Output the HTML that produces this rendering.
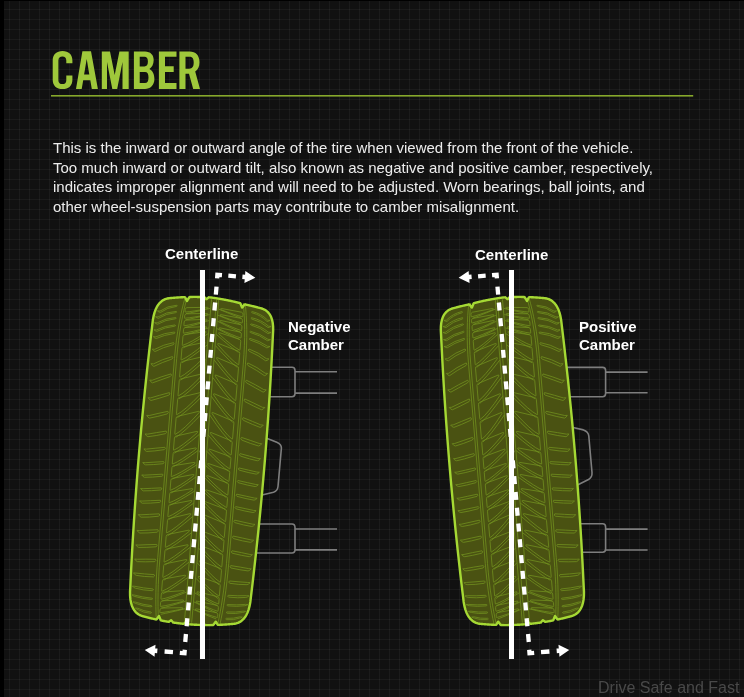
<!DOCTYPE html>
<html><head><meta charset="utf-8"><style>
html,body{margin:0;padding:0;}
body{width:744px;height:697px;overflow:hidden;position:relative;background:#000;}
#bg{position:absolute;left:4px;top:1px;width:740px;height:696px;
background-color:#111111;
background-image:linear-gradient(to right, rgba(255,255,255,0.045) 1px, transparent 1px),
linear-gradient(to bottom, rgba(255,255,255,0.045) 1px, transparent 1px);
background-size:10px 10px;background-position:5px 8px;}
.t{position:absolute;font-family:"Liberation Sans",sans-serif;white-space:nowrap;will-change:transform;}
#para{left:53px;top:138px;font-size:15px;line-height:19.5px;color:#ededed;}
.lab{font-size:15px;font-weight:bold;color:#fff;line-height:18px;}
#wm{left:598px;top:679px;font-size:16px;color:#494949;}
svg{position:absolute;left:0;top:0;}
</style></head><body>
<div id="bg"></div>
<div class="t" id="para">This is the inward or outward angle of the tire when viewed from the front of the vehicle.<br>Too much inward or outward tilt, also known as negative and positive camber, respectively,<br>indicates improper alignment and will need to be adjusted. Worn bearings, ball joints, and<br>other wheel-suspension parts may contribute to camber misalignment.</div>
<svg width="744" height="697" viewBox="0 0 744 697">
<g fill="#9fc83b" fill-rule="evenodd">
<path d="M72.4,63.3 L72.4,60.5 C72.4,54.6 68.6,51.1 62.55,51.1 C56.5,51.1 52.7,54.6 52.7,60.5 L52.7,79.7 C52.7,85.6 56.5,89.1 62.55,89.1 C68.6,89.1 72.4,85.6 72.4,79.7 L72.4,75.5 L66.3,75.5 L66.3,80.2 C66.3,82.8 64.8,84.1 62.4,84.1 C60,84.1 58.4,82.8 58.4,80.2 L58.4,60.4 C58.4,57.8 60,56.5 62.4,56.5 C64.8,56.5 66.3,57.8 66.3,60.4 L66.3,63.3 Z"/>
<path d="M76,89 L82.4,51.3 L91,51.3 L97.9,89 L91.8,89 L90.3,80.2 L83.2,80.2 L81.7,89 Z M84.1,74.4 L89.3,74.4 L86.7,59 Z"/>
<path d="M101.8,89 L101.8,51.5 L110,51.5 L114.7,75 L119.4,51.5 L128.7,51.5 L128.7,89 L122.5,89 L122.5,62 L117.2,89 L112.3,89 L107,62 L107,89 Z"/>
<path d="M133.9,51.5 L145,51.5 C150.5,51.5 153.7,55 153.7,60 C153.7,64.5 151.7,67.5 149.4,69 C152.5,70.5 154.4,74 154.4,79 C154.4,85 150.5,89 145,89 L133.9,89 Z M139.7,56.8 L144.5,56.8 C146.7,56.8 147.9,58.2 147.9,61.6 C147.9,65 146.7,66.5 144.5,66.5 L139.7,66.5 Z M139.7,71.9 L145,71.9 C147.3,71.9 148.5,73.7 148.5,77.4 C148.5,81.2 147.3,83 145,83 L139.7,83 Z"/>
<path d="M158.9,51.5 L176.5,51.5 L176.5,56.8 L165,56.8 L165,66.2 L173.7,66.2 L173.7,71.9 L165,71.9 L165,83 L176.5,83 L176.5,89 L158.9,89 Z"/>
<path d="M179.4,89 L179.4,51.5 L189.5,51.5 C195.8,51.5 199.5,55.5 199.5,62.2 C199.5,66.8 197.8,70 195.2,71.5 L200,89 L193.2,89 L189,73.7 L185.5,73.7 L185.5,89 Z M185.5,56.8 L189.3,56.8 C192.3,56.8 193.7,58.5 193.7,62.5 C193.7,66.5 192.3,68.7 189.3,68.7 L185.5,68.7 Z"/>
</g>
<rect x="51" y="95" width="642.2" height="1.6" fill="#86a82b"/>
<g fill="none" stroke="#7e7e7e" stroke-width="1.6" stroke-linejoin="round">
<path d="M266,367.3 L292,367.3 Q295,367.3 295,370.5 L295,393.5 Q295,396.7 292,396.7 L265,396.7"/>
<path d="M295,371.8 L337,371.8 M295,393.1 L337,393.1"/>
<path d="M266,438 L276.8,442.2 Q281.4,444 281.4,448 L278,486.5 Q277.6,490.8 273.5,492.2 L261,495.3"/>
<path d="M257,524 L292,524 Q295,524 295,527.5 L295,549.5 Q295,553 292,553 L254,553"/>
<path d="M295,529 L337,529 M295,549.9 L337,549.9"/>
</g>
<g fill="none" stroke="#7e7e7e" stroke-width="1.6" stroke-linejoin="round">
<path d="M566,367.4 L602.6,367.4 Q605.6,367.4 605.6,370.6 L605.6,393.6 Q605.6,396.8 602.6,396.8 L568,396.8"/>
<path d="M605.6,372.1 L647.6,372.1 M605.6,392.7 L647.6,392.7"/>
<path d="M572,427.3 L583.4,429.9 Q588.3,431.5 588.8,436 L592,472.5 Q592.3,477.3 588.5,479.5 L577,485.3"/>
<path d="M579,523.8 L602.6,523.8 Q605.6,523.8 605.6,527 L605.6,549 Q605.6,552.2 602.6,552.2 L581.5,552.2"/>
<path d="M605.6,529.1 L647.6,529.1 M605.6,550 L647.6,550"/>
</g>
<g transform="translate(201.6,461) rotate(4.8)">
<path d="M-46,-159.5 L-45.5,-159.59 L-45,-159.68 L-44.5,-159.78 L-44,-159.87 L-43.5,-159.95 L-43,-160.04 L-42.5,-160.13 L-42,-160.22 L-41.5,-160.3 L-41,-160.38 L-40.5,-160.47 L-40,-160.55 L-39.5,-160.63 L-39,-160.71 L-38.5,-160.79 L-38,-160.87 L-37.5,-160.94 L-37,-161.02 L-36.5,-161.09 L-36,-161.17 L-35.5,-161.24 L-35,-161.31 L-34.5,-161.38 L-34,-161.45 L-33.5,-161.52 L-33,-161.59 L-32.5,-161.65 L-32,-161.72 L-31.5,-161.78 L-31,-161.85 L-30.5,-161.91 L-30,-161.61 L-29.5,-160.76 L-29,-159.91 L-28.5,-159.06 L-28,-158.21 L-27.5,-159.17 L-27,-160.14 L-26.5,-161.1 L-26,-162.06 L-25.5,-162.48 L-25,-162.53 L-24.5,-162.58 L-24,-162.63 L-23.5,-162.68 L-23,-162.72 L-22.5,-162.77 L-22,-162.82 L-21.5,-162.86 L-21,-162.9 L-20.5,-162.95 L-20,-162.99 L-19.5,-163.03 L-19,-163.07 L-18.5,-163.1 L-18,-163.14 L-17.5,-163.18 L-17,-163.21 L-16.5,-163.25 L-16,-163.28 L-15.5,-163.31 L-15,-163.34 L-14.5,-163.37 L-14,-163.4 L-13.5,-163.43 L-13,-163.46 L-12.5,-163.48 L-12,-163.51 L-11.5,-163.53 L-11,-163.55 L-10.5,-163.08 L-10,-162.6 L-9.5,-162.12 L-9,-161.64 L-8.5,-161.75 L-8,-162.27 L-7.5,-162.79 L-7,-163.3 L-6.5,-163.71 L-6,-163.73 L-5.5,-163.74 L-5,-163.75 L-4.5,-163.73 L-4,-163.7 L-3.5,-163.68 L-3,-163.65 L-2.5,-163.62 L-2,-163.59 L-1.5,-163.57 L-1,-163.54 L-0.5,-163.5 L0,-163.47 L0.5,-163.44 L1,-163.4 L1.5,-163.37 L2,-163.33 L2.5,-163.29 L3,-163.26 L3.5,-163.22 L4,-163.18 L4.5,-163.13 L5,-163.09 L5.5,-163.05 L6,-163 L6.5,-162.96 L7,-162.91 L7.5,-162.86 L8,-162.82 L8.5,-162.77 L9,-162.72 L9.5,-162.66 L10,-162.61 L10.5,-162.56 L11,-162.5 L11.5,-162.45 L12,-162.39 L12.5,-162.33 L13,-162.27 L13.5,-162.21 L14,-162.15 L14.5,-162.09 L15,-162.03 L15.5,-161.96 L16,-161.9 L16.5,-161.83 L17,-161.77 L17.5,-161.7 L18,-161.63 L18.5,-161.56 L19,-161.49 L19.5,-161.42 L20,-161.34 L20.5,-161.27 L21,-161.2 L21.5,-161.12 L22,-161.04 L22.5,-160.96 L23,-160.88 L23.5,-160.8 L24,-160.72 L24.5,-160.64 L25,-160.56 L25.5,-160.29 L26,-159.3 L26.5,-158.3 L27,-157.31 L27.5,-156.31 L28,-156.77 L28.5,-157.58 L29,-158.4 L29.5,-159.22 L30,-159.67 L30.5,-159.61 L31,-159.55 L31.5,-159.48 L32,-159.42 L32.5,-159.35 L33,-159.29 L33.5,-159.22 L34,-159.15 L34.5,-159.08 L35,-159.01 L35.5,-158.94 L36,-158.87 L36.5,-158.79 L37,-158.72 L37.5,-158.64 L38,-158.57 L38.5,-158.49 L39,-158.41 L39.5,-158.33 L40,-158.25 L40.5,-158.17 L41,-158.08 L41.5,-158 L42,-157.92 L42.5,-157.83 L43,-157.74 L43.5,-157.65 L44,-157.57 L44.5,-157.48 L45,-157.38 L45.5,-157.29 L46,-157.2 L47.97,-156.8 L49.85,-156.17 L51.64,-155.29 L53.31,-154.13 L54.86,-152.68 L56.25,-150.9 L57.48,-148.77 L58.52,-146.27 L59.36,-143.36 L59.98,-140.03 L60.37,-136.25 L60.5,-132 L60.68,-127.2 L60.85,-122.4 L61.02,-117.6 L61.17,-112.8 L61.33,-108 L61.47,-103.2 L61.61,-98.4 L61.74,-93.6 L61.87,-88.8 L61.99,-84 L62.1,-79.2 L62.21,-74.4 L62.3,-69.6 L62.4,-64.8 L62.48,-60 L62.56,-55.2 L62.64,-50.4 L62.7,-45.6 L62.76,-40.8 L62.81,-36 L62.86,-31.2 L62.9,-26.4 L62.93,-21.6 L62.96,-16.8 L62.98,-12 L62.99,-7.2 L63,-2.4 L63,2.4 L62.99,7.2 L62.98,12 L62.96,16.8 L62.93,21.6 L62.9,26.4 L62.86,31.2 L62.81,36 L62.76,40.8 L62.7,45.6 L62.64,50.4 L62.56,55.2 L62.48,60 L62.4,64.8 L62.3,69.6 L62.21,74.4 L62.1,79.2 L61.99,84 L61.87,88.8 L61.74,93.6 L61.61,98.4 L61.47,103.2 L61.33,108 L61.17,112.8 L61.02,117.6 L60.85,122.4 L60.68,127.2 L60.5,132 L60.37,136.4 L59.98,140.36 L59.36,143.89 L58.52,147.02 L57.48,149.76 L56.25,152.12 L54.86,154.14 L53.31,155.81 L51.64,157.17 L49.85,158.23 L47.97,159 L46,159.5 L45.5,159.59 L45,159.68 L44.5,159.78 L44,159.87 L43.5,159.95 L43,160.04 L42.5,160.13 L42,160.22 L41.5,160.3 L41,160.38 L40.5,160.47 L40,160.55 L39.5,160.63 L39,160.71 L38.5,160.79 L38,160.87 L37.5,160.94 L37,161.02 L36.5,161.09 L36,161.17 L35.5,161.24 L35,161.31 L34.5,161.38 L34,161.45 L33.5,161.52 L33,161.59 L32.5,161.65 L32,161.72 L31.5,161.78 L31,161.85 L30.5,161.91 L30,161.97 L29.5,161.55 L29,160.82 L28.5,160.08 L28,159.34 L27.5,158.92 L27,159.77 L26.5,160.62 L26,161.47 L25.5,162.32 L25,162.53 L24.5,162.58 L24,162.63 L23.5,162.68 L23,162.72 L22.5,162.77 L22,162.82 L21.5,162.86 L21,162.9 L20.5,162.95 L20,162.99 L19.5,163.03 L19,163.07 L18.5,163.1 L18,163.14 L17.5,163.18 L17,163.21 L16.5,163.25 L16,163.28 L15.5,163.31 L15,163.34 L14.5,163.37 L14,163.4 L13.5,163.43 L13,163.46 L12.5,163.48 L12,163.51 L11.5,163.53 L11,163.55 L10.5,163.58 L10,163.6 L9.5,163.62 L9,163.64 L8.5,163.65 L8,163.67 L7.5,163.69 L7,163.7 L6.5,163.71 L6,163.73 L5.5,163.74 L5,163.75 L4.5,163.76 L4,163.77 L3.5,163.78 L3,163.78 L2.5,163.79 L2,163.79 L1.5,163.8 L1,163.8 L0.5,163.8 L0,163.62 L-0.5,163.16 L-1,162.71 L-1.5,162.25 L-2,161.79 L-2.5,162.24 L-3,162.69 L-3.5,163.14 L-4,163.59 L-4.5,163.76 L-5,163.75 L-5.5,163.74 L-6,163.73 L-6.5,163.71 L-7,163.7 L-7.5,163.69 L-8,163.67 L-8.5,163.65 L-9,163.64 L-9.5,163.62 L-10,163.6 L-10.5,163.58 L-11,163.55 L-11.5,163.53 L-12,163.51 L-12.5,163.48 L-13,163.46 L-13.5,163.43 L-14,163.4 L-14.5,163.37 L-15,163.16 L-15.5,162.68 L-16,162.19 L-16.5,161.7 L-17,161.21 L-17.5,161.63 L-18,162.05 L-18.5,162.47 L-19,162.88 L-19.5,163.03 L-20,162.99 L-20.5,162.95 L-21,162.9 L-21.5,162.86 L-22,162.82 L-22.5,162.77 L-23,162.72 L-23.5,162.68 L-24,162.63 L-24.5,162.58 L-25,162.53 L-25.5,162.48 L-26,162.43 L-26.5,162.37 L-27,162.32 L-27.5,161.9 L-28,160.93 L-28.5,159.97 L-29,159 L-29.5,158.03 L-30,158.88 L-30.5,159.73 L-31,160.57 L-31.5,161.42 L-32,161.72 L-32.5,161.65 L-33,161.59 L-33.5,161.52 L-34,161.45 L-34.5,161.38 L-35,161.31 L-35.5,161.24 L-36,161.17 L-36.5,161.09 L-37,161.02 L-37.5,160.94 L-38,160.87 L-38.5,160.79 L-39,160.71 L-39.5,160.63 L-40,160.55 L-40.5,160.47 L-41,160.38 L-41.5,160.3 L-42,160.22 L-42.5,160.13 L-43,160.04 L-43.5,159.95 L-44,159.87 L-44.5,159.78 L-45,159.68 L-45.5,159.59 L-46,159.5 L-47.97,159 L-49.85,158.23 L-51.64,157.17 L-53.31,155.81 L-54.86,154.14 L-56.25,152.12 L-57.48,149.76 L-58.52,147.02 L-59.36,143.89 L-59.98,140.36 L-60.37,136.4 L-60.5,132 L-60.68,127.2 L-60.85,122.4 L-61.02,117.6 L-61.17,112.8 L-61.33,108 L-61.47,103.2 L-61.61,98.4 L-61.74,93.6 L-61.87,88.8 L-61.99,84 L-62.1,79.2 L-62.21,74.4 L-62.3,69.6 L-62.4,64.8 L-62.48,60 L-62.56,55.2 L-62.64,50.4 L-62.7,45.6 L-62.76,40.8 L-62.81,36 L-62.86,31.2 L-62.9,26.4 L-62.93,21.6 L-62.96,16.8 L-62.98,12 L-62.99,7.2 L-63,2.4 L-63,-2.4 L-62.99,-7.2 L-62.98,-12 L-62.96,-16.8 L-62.93,-21.6 L-62.9,-26.4 L-62.86,-31.2 L-62.81,-36 L-62.76,-40.8 L-62.7,-45.6 L-62.64,-50.4 L-62.56,-55.2 L-62.48,-60 L-62.4,-64.8 L-62.3,-69.6 L-62.21,-74.4 L-62.1,-79.2 L-61.99,-84 L-61.87,-88.8 L-61.74,-93.6 L-61.61,-98.4 L-61.47,-103.2 L-61.33,-108 L-61.17,-112.8 L-61.02,-117.6 L-60.85,-122.4 L-60.68,-127.2 L-60.37,-136.4 L-59.98,-140.36 L-59.36,-143.89 L-58.52,-147.02 L-57.48,-149.76 L-56.25,-152.12 L-54.86,-154.14 L-53.31,-155.81 L-51.64,-157.17 L-49.85,-158.23 L-47.97,-159Z" fill="#4a5212"/>
<g fill="none" stroke="#71901f" stroke-width="0.75">
<path d="M-56.54,-145.88 Q-55.34,-144.84 -53.54,-144.51 Q-46.87,-150.32 -38.2,-151.85 Q-36.4,-152.5 -37.8,-153.15 Q-46.87,-151.95 -54.04,-145.88 L-56.54,-145.88"/>
<path d="M-58.01,-139.91 Q-56.81,-138.87 -55.01,-138.54 Q-47.6,-144.16 -38.2,-145.66 Q-36.4,-146.31 -37.8,-146.96 Q-47.6,-145.79 -55.51,-139.91 L-58.01,-139.91"/>
<path d="M-58.37,-133.94 Q-57.17,-132.9 -55.37,-132.57 Q-47.78,-137.88 -38.2,-139.47 Q-36.4,-140.12 -37.8,-140.77 Q-47.78,-139.5 -55.87,-133.94 L-58.37,-133.94"/>
<path d="M-58.5,-126.79 Q-57.3,-125.75 -55.5,-125.42 Q-47.85,-130.28 -38.2,-132.06 Q-36.4,-132.71 -37.8,-133.36 Q-47.85,-131.91 -56,-126.79 L-58.5,-126.79"/>
<path d="M-58.5,-119.86 Q-57.3,-118.6 -55.5,-118.24 Q-47.85,-122.62 -38.2,-124.69 Q-36.4,-125.48 -37.8,-126.27 Q-47.85,-124.6 -56,-119.86 L-58.5,-119.86"/>
<path d="M-58.5,-107.36 Q-57.3,-105.61 -55.5,-105.2 Q-47.85,-110.22 -38.2,-113.41 Q-36.4,-114.5 -37.8,-115.59 Q-47.85,-112.94 -56,-107.36 L-58.5,-107.36"/>
<path d="M-58.5,-92.77 Q-57.3,-90.72 -55.5,-90.26 Q-47.85,-94.91 -38.2,-99.04 Q-36.4,-100.32 -37.8,-101.61 Q-47.85,-98.12 -56,-92.77 L-58.5,-92.77"/>
<path d="M-58.5,-76.31 Q-57.3,-74.23 -55.5,-73.77 Q-47.85,-77.2 -38.2,-81.64 Q-36.4,-82.94 -37.8,-84.24 Q-47.85,-80.45 -56,-76.31 L-58.5,-76.31"/>
<path d="M-58.5,-58.62 Q-57.3,-56.54 -55.5,-56.08 Q-47.85,-58.66 -38.2,-62.85 Q-36.4,-64.15 -37.8,-65.45 Q-47.85,-61.91 -56,-58.62 L-58.5,-58.62"/>
<path d="M-58.5,-40.92 Q-57.3,-38.84 -55.5,-38.38 Q-47.85,-40.41 -38.2,-44.06 Q-36.4,-45.36 -37.8,-46.66 Q-47.85,-43.66 -56,-40.92 L-58.5,-40.92"/>
<path d="M-58.5,-22.26 Q-57.3,-20.18 -55.5,-19.72 Q-47.85,-21.18 -38.2,-24.25 Q-36.4,-25.55 -37.8,-26.85 Q-47.85,-24.43 -56,-22.26 L-58.5,-22.26"/>
<path d="M-58.5,-7.22 Q-57.3,-5.32 -55.5,-4.89 Q-47.85,-5.81 -38.2,-8.19 Q-36.4,-9.37 -37.8,-10.56 Q-47.85,-8.77 -56,-7.22 L-58.5,-7.22"/>
<path d="M-58.5,6.4 Q-57.3,8.11 -55.5,8.52 Q-47.85,7.87 -38.2,5.92 Q-36.4,4.85 -37.8,3.78 Q-47.85,5.2 -56,6.4 L-58.5,6.4"/>
<path d="M-58.5,18.91 Q-57.3,20.61 -55.5,21.03 Q-47.85,20.42 -38.2,18.53 Q-36.4,17.47 -37.8,16.4 Q-47.85,17.76 -56,18.91 L-58.5,18.91"/>
<path d="M-58.5,32.51 Q-57.3,34.21 -55.5,34.62 Q-47.85,34.08 -38.2,32.25 Q-36.4,31.19 -37.8,30.12 Q-47.85,31.43 -56,32.51 L-58.5,32.51"/>
<path d="M-58.5,44.91 Q-57.3,46.63 -55.5,47.04 Q-47.85,46.55 -38.2,44.75 Q-36.4,43.67 -37.8,42.6 Q-47.85,43.86 -56,44.91 L-58.5,44.91"/>
<path d="M-58.5,58.69 Q-57.3,60.63 -55.5,61.07 Q-47.85,60.6 -38.2,58.63 Q-36.4,57.41 -37.8,56.2 Q-47.85,57.56 -56,58.69 L-58.5,58.69"/>
<path d="M-58.5,74.54 Q-57.3,76.52 -55.5,76.97 Q-47.85,76.5 -38.2,74.63 Q-36.4,73.39 -37.8,72.15 Q-47.85,73.41 -56,74.54 L-58.5,74.54"/>
<path d="M-58.5,89.08 Q-57.3,90.97 -55.5,91.4 Q-47.85,90.89 -38.2,89.3 Q-36.4,88.11 -37.8,86.93 Q-47.85,87.93 -56,89.08 L-58.5,89.08"/>
<path d="M-58.5,103.32 Q-57.3,105.21 -55.5,105.65 Q-47.85,105.41 -38.2,104.16 Q-36.4,102.97 -37.8,101.79 Q-47.85,102.45 -56,103.32 L-58.5,103.32"/>
<path d="M-58.5,117.18 Q-57.3,118.99 -55.5,119.42 Q-47.85,120.22 -38.2,119.5 Q-36.4,118.36 -37.8,117.23 Q-47.85,117.39 -56,117.18 L-58.5,117.18"/>
<path d="M-58.48,130.45 Q-57.28,131.88 -55.48,132.25 Q-47.84,133.75 -38.2,133.37 Q-36.4,132.48 -37.8,131.59 Q-47.84,131.52 -55.98,130.45 L-58.48,130.45"/>
<path d="M-58.12,139.23 Q-56.92,140.27 -55.12,140.6 Q-47.66,142.36 -38.2,142.17 Q-36.4,141.52 -37.8,140.87 Q-47.66,140.74 -55.62,139.23 L-58.12,139.23"/>
<path d="M-56.48,146.15 Q-55.28,147.19 -53.48,147.52 Q-46.84,149.72 -38.2,149.61 Q-36.4,148.96 -37.8,148.31 Q-46.84,148.09 -53.98,146.15 L-56.48,146.15"/>
<path d="M-53.68,152.11 Q-52.48,153.15 -50.68,153.48 Q-45.44,156.05 -38.2,156.01 Q-36.4,155.36 -37.8,154.71 Q-45.44,154.43 -51.18,152.11 L-53.68,152.11"/>
<path d="M-30.2,-161 C-33.2,-146 -35.6,-126 -35.6,-100 L-35.6,100 C-35.6,126 -34,146 -32,161"/>
<path d="M-28.2,-161 C-31.2,-146 -33.4,-126 -33.4,-100 L-33.4,100 C-33.4,126 -31.8,146 -29.8,161"/>
<path d="M-29,-149.59 Q-29,-151.09 -27.5,-151.59 L-7,-153.64 Q-6,-153.94 -6.5,-152.44 Q-21,-148.4 -28.4,-147.1 Q-29,-146.5 -29,-148Z"/>
<path d="M-4.2,-152.8 Q-20,-147.64 -27.8,-145.55"/>
<path d="M-29,-143.4 Q-29,-144.9 -27.5,-145.4 L-7,-147.45 Q-6,-147.75 -6.5,-146.25 Q-21,-142.21 -28.4,-140.91 Q-29,-140.31 -29,-141.81Z"/>
<path d="M-4.2,-146.61 Q-20,-141.45 -27.8,-139.36"/>
<path d="M-29,-137.06 Q-29,-138.56 -27.5,-139.06 L-7,-141.67 Q-6,-141.97 -6.5,-140.47 Q-21,-135.02 -28.4,-133.35 Q-29,-132.75 -29,-134.25Z"/>
<path d="M-4.2,-140.6 Q-20,-134.12 -27.8,-131.61"/>
<path d="M-29,-129.65 Q-29,-131.15 -27.5,-131.65 L-7,-134.26 Q-6,-134.56 -6.5,-133.06 Q-21,-127.62 -28.4,-125.94 Q-29,-125.34 -29,-126.84Z"/>
<path d="M-4.2,-133.2 Q-20,-126.71 -27.8,-124.21"/>
<path d="M-29,-122.46 Q-29,-123.96 -27.5,-124.46 L-7,-129.36 Q-6,-129.66 -6.5,-128.16 Q-21,-116.92 -28.4,-113.72 Q-29,-113.12 -29,-114.62Z"/>
<path d="M-4.2,-127.38 Q-20,-115.4 -27.8,-111.22"/>
<path d="M-29,-110.45 Q-29,-111.95 -27.5,-112.45 L-7,-118.52 Q-6,-118.82 -6.5,-117.32 Q-21,-103.08 -28.4,-99.1 Q-29,-98.5 -29,-100Z"/>
<path d="M-4.2,-116.07 Q-20,-101.24 -27.8,-96.21"/>
<path d="M-29,-95.59 Q-29,-97.09 -27.5,-97.59 L-7,-104.29 Q-6,-104.59 -6.5,-103.09 Q-21,-86.24 -28.4,-81.84 Q-29,-81.24 -29,-82.74Z"/>
<path d="M-4.2,-101.59 Q-20,-84.24 -27.8,-78.74"/>
<path d="M-29,-78.14 Q-29,-79.64 -27.5,-80.14 L-7,-86.84 Q-6,-87.14 -6.5,-85.64 Q-21,-67.45 -28.4,-63.05 Q-29,-62.45 -29,-63.95Z"/>
<path d="M-4.2,-84.14 Q-20,-65.45 -27.8,-59.95"/>
<path d="M-29,-59.35 Q-29,-60.85 -27.5,-61.35 L-7,-68.05 Q-6,-68.35 -6.5,-66.85 Q-21,-48.66 -28.4,-44.26 Q-29,-43.66 -29,-45.16Z"/>
<path d="M-4.2,-65.35 Q-20,-46.66 -27.8,-41.16"/>
<path d="M-29,-40.56 Q-29,-42.06 -27.5,-42.56 L-7,-49.26 Q-6,-49.56 -6.5,-48.06 Q-21,-28.85 -28.4,-24.45 Q-29,-23.85 -29,-25.35Z"/>
<path d="M-4.2,-46.56 Q-20,-26.85 -27.8,-21.35"/>
<path d="M-29,-20.74 Q-29,-22.24 -27.5,-22.74 L-7,-29.19 Q-6,-29.49 -6.5,-27.99 Q-21,-12.77 -28.4,-8.55 Q-29,-7.95 -29,-9.45Z"/>
<path d="M-4.2,-26.59 Q-20,-10.84 -27.8,-5.53"/>
<path d="M-29,-4.88 Q-29,-6.38 -27.5,-6.88 L-7,-12.53 Q-6,-12.83 -6.5,-11.33 Q-21,1.68 -28.4,5.38 Q-29,5.98 -29,4.48Z"/>
<path d="M-4.2,-10.25 Q-20,3.4 -27.8,8.13"/>
<path d="M-29,9.04 Q-29,7.54 -27.5,7.04 L-7,1.95 Q-6,1.65 -6.5,3.15 Q-21,14.62 -28.4,17.95 Q-29,18.55 -29,17.05Z"/>
<path d="M-4.2,4.01 Q-20,16.19 -27.8,20.51"/>
<path d="M-29,21.69 Q-29,20.19 -27.5,19.69 L-7,14.09 Q-6,13.79 -6.5,15.29 Q-21,28.04 -28.4,31.7 Q-29,32.3 -29,30.8Z"/>
<path d="M-4.2,16.35 Q-20,29.74 -27.8,34.44"/>
<path d="M-29,35.35 Q-29,33.85 -27.5,33.35 L-7,28.31 Q-6,28.01 -6.5,29.51 Q-21,40.87 -28.4,44.16 Q-29,44.76 -29,43.26Z"/>
<path d="M-4.2,30.35 Q-20,42.43 -27.8,46.71"/>
<path d="M-29,47.93 Q-29,46.43 -27.5,45.93 L-7,40.19 Q-6,39.89 -6.5,41.39 Q-21,54.49 -28.4,58.25 Q-29,58.85 -29,57.35Z"/>
<path d="M-4.2,42.51 Q-20,56.23 -27.8,61.03"/>
<path d="M-29,62.05 Q-29,60.55 -27.5,60.05 L-7,53.37 Q-6,53.07 -6.5,54.57 Q-21,69.99 -28.4,74.37 Q-29,74.97 -29,73.47Z"/>
<path d="M-4.2,56.06 Q-20,71.98 -27.8,77.47"/>
<path d="M-29,78 Q-29,76.5 -27.5,76 L-7,69.98 Q-6,69.68 -6.5,71.18 Q-21,84.97 -28.4,88.92 Q-29,89.52 -29,88.02Z"/>
<path d="M-4.2,72.4 Q-20,86.79 -27.8,91.79"/>
<path d="M-29,92.62 Q-29,91.12 -27.5,90.62 L-7,84.59 Q-6,84.29 -6.5,85.79 Q-21,99.83 -28.4,103.78 Q-29,104.38 -29,102.88Z"/>
<path d="M-4.2,87.02 Q-20,101.65 -27.8,106.65"/>
<path d="M-29,107.48 Q-29,105.98 -27.5,105.48 L-7,99.45 Q-6,99.15 -6.5,100.65 Q-21,115.17 -28.4,119.12 Q-29,119.72 -29,118.22Z"/>
<path d="M-4.2,101.88 Q-20,116.99 -27.8,122"/>
<path d="M-29,122.66 Q-29,121.16 -27.5,120.66 L-7,115.2 Q-6,114.9 -6.5,116.4 Q-21,129.41 -28.4,132.99 Q-29,133.59 -29,132.09Z"/>
<path d="M-4.2,117.4 Q-20,131.08 -27.8,135.67"/>
<path d="M-29,135.86 Q-29,134.36 -27.5,133.86 L-7,130.64 Q-6,130.34 -6.5,131.84 Q-21,138.96 -28.4,141.04 Q-29,141.64 -29,140.14Z"/>
<path d="M-4.2,131.95 Q-20,140.04 -27.8,142.98"/>
<path d="M-29,144.57 Q-29,143.07 -27.5,142.57 L-7,140.01 Q-6,139.71 -6.5,141.21 Q-21,146.66 -28.4,148.3 Q-29,148.9 -29,147.4Z"/>
<path d="M-4.2,141.05 Q-20,147.56 -27.8,150.03"/>
<path d="M-29,151.88 Q-29,150.38 -27.5,149.88 L-7,147.78 Q-6,147.48 -6.5,148.98 Q-21,153.25 -28.4,154.58 Q-29,155.18 -29,153.68Z"/>
<path d="M-4.2,148.64 Q-20,154.02 -27.8,156.15"/>
<path d="M-3.6,-162 Q-5.2,0 -3.6,162"/>
<g transform="scale(-1,1)">
<path d="M-56.54,-145.88 Q-55.34,-144.84 -53.54,-144.51 Q-46.87,-150.32 -38.2,-151.85 Q-36.4,-152.5 -37.8,-153.15 Q-46.87,-151.95 -54.04,-145.88 L-56.54,-145.88"/>
<path d="M-58.01,-139.91 Q-56.81,-138.87 -55.01,-138.54 Q-47.6,-144.16 -38.2,-145.66 Q-36.4,-146.31 -37.8,-146.96 Q-47.6,-145.79 -55.51,-139.91 L-58.01,-139.91"/>
<path d="M-58.37,-133.94 Q-57.17,-132.9 -55.37,-132.57 Q-47.78,-137.88 -38.2,-139.47 Q-36.4,-140.12 -37.8,-140.77 Q-47.78,-139.5 -55.87,-133.94 L-58.37,-133.94"/>
<path d="M-58.5,-126.79 Q-57.3,-125.75 -55.5,-125.42 Q-47.85,-130.28 -38.2,-132.06 Q-36.4,-132.71 -37.8,-133.36 Q-47.85,-131.91 -56,-126.79 L-58.5,-126.79"/>
<path d="M-58.5,-119.86 Q-57.3,-118.6 -55.5,-118.24 Q-47.85,-122.62 -38.2,-124.69 Q-36.4,-125.48 -37.8,-126.27 Q-47.85,-124.6 -56,-119.86 L-58.5,-119.86"/>
<path d="M-58.5,-107.36 Q-57.3,-105.61 -55.5,-105.2 Q-47.85,-110.22 -38.2,-113.41 Q-36.4,-114.5 -37.8,-115.59 Q-47.85,-112.94 -56,-107.36 L-58.5,-107.36"/>
<path d="M-58.5,-92.77 Q-57.3,-90.72 -55.5,-90.26 Q-47.85,-94.91 -38.2,-99.04 Q-36.4,-100.32 -37.8,-101.61 Q-47.85,-98.12 -56,-92.77 L-58.5,-92.77"/>
<path d="M-58.5,-76.31 Q-57.3,-74.23 -55.5,-73.77 Q-47.85,-77.2 -38.2,-81.64 Q-36.4,-82.94 -37.8,-84.24 Q-47.85,-80.45 -56,-76.31 L-58.5,-76.31"/>
<path d="M-58.5,-58.62 Q-57.3,-56.54 -55.5,-56.08 Q-47.85,-58.66 -38.2,-62.85 Q-36.4,-64.15 -37.8,-65.45 Q-47.85,-61.91 -56,-58.62 L-58.5,-58.62"/>
<path d="M-58.5,-40.92 Q-57.3,-38.84 -55.5,-38.38 Q-47.85,-40.41 -38.2,-44.06 Q-36.4,-45.36 -37.8,-46.66 Q-47.85,-43.66 -56,-40.92 L-58.5,-40.92"/>
<path d="M-58.5,-22.26 Q-57.3,-20.18 -55.5,-19.72 Q-47.85,-21.18 -38.2,-24.25 Q-36.4,-25.55 -37.8,-26.85 Q-47.85,-24.43 -56,-22.26 L-58.5,-22.26"/>
<path d="M-58.5,-7.22 Q-57.3,-5.32 -55.5,-4.89 Q-47.85,-5.81 -38.2,-8.19 Q-36.4,-9.37 -37.8,-10.56 Q-47.85,-8.77 -56,-7.22 L-58.5,-7.22"/>
<path d="M-58.5,6.4 Q-57.3,8.11 -55.5,8.52 Q-47.85,7.87 -38.2,5.92 Q-36.4,4.85 -37.8,3.78 Q-47.85,5.2 -56,6.4 L-58.5,6.4"/>
<path d="M-58.5,18.91 Q-57.3,20.61 -55.5,21.03 Q-47.85,20.42 -38.2,18.53 Q-36.4,17.47 -37.8,16.4 Q-47.85,17.76 -56,18.91 L-58.5,18.91"/>
<path d="M-58.5,32.51 Q-57.3,34.21 -55.5,34.62 Q-47.85,34.08 -38.2,32.25 Q-36.4,31.19 -37.8,30.12 Q-47.85,31.43 -56,32.51 L-58.5,32.51"/>
<path d="M-58.5,44.91 Q-57.3,46.63 -55.5,47.04 Q-47.85,46.55 -38.2,44.75 Q-36.4,43.67 -37.8,42.6 Q-47.85,43.86 -56,44.91 L-58.5,44.91"/>
<path d="M-58.5,58.69 Q-57.3,60.63 -55.5,61.07 Q-47.85,60.6 -38.2,58.63 Q-36.4,57.41 -37.8,56.2 Q-47.85,57.56 -56,58.69 L-58.5,58.69"/>
<path d="M-58.5,74.54 Q-57.3,76.52 -55.5,76.97 Q-47.85,76.5 -38.2,74.63 Q-36.4,73.39 -37.8,72.15 Q-47.85,73.41 -56,74.54 L-58.5,74.54"/>
<path d="M-58.5,89.08 Q-57.3,90.97 -55.5,91.4 Q-47.85,90.89 -38.2,89.3 Q-36.4,88.11 -37.8,86.93 Q-47.85,87.93 -56,89.08 L-58.5,89.08"/>
<path d="M-58.5,103.32 Q-57.3,105.21 -55.5,105.65 Q-47.85,105.41 -38.2,104.16 Q-36.4,102.97 -37.8,101.79 Q-47.85,102.45 -56,103.32 L-58.5,103.32"/>
<path d="M-58.5,117.18 Q-57.3,118.99 -55.5,119.42 Q-47.85,120.22 -38.2,119.5 Q-36.4,118.36 -37.8,117.23 Q-47.85,117.39 -56,117.18 L-58.5,117.18"/>
<path d="M-58.48,130.45 Q-57.28,131.88 -55.48,132.25 Q-47.84,133.75 -38.2,133.37 Q-36.4,132.48 -37.8,131.59 Q-47.84,131.52 -55.98,130.45 L-58.48,130.45"/>
<path d="M-58.12,139.23 Q-56.92,140.27 -55.12,140.6 Q-47.66,142.36 -38.2,142.17 Q-36.4,141.52 -37.8,140.87 Q-47.66,140.74 -55.62,139.23 L-58.12,139.23"/>
<path d="M-56.48,146.15 Q-55.28,147.19 -53.48,147.52 Q-46.84,149.72 -38.2,149.61 Q-36.4,148.96 -37.8,148.31 Q-46.84,148.09 -53.98,146.15 L-56.48,146.15"/>
<path d="M-53.68,152.11 Q-52.48,153.15 -50.68,153.48 Q-45.44,156.05 -38.2,156.01 Q-36.4,155.36 -37.8,154.71 Q-45.44,154.43 -51.18,152.11 L-53.68,152.11"/>
<path d="M-30.2,-161 C-33.2,-146 -35.6,-126 -35.6,-100 L-35.6,100 C-35.6,126 -34,146 -32,161"/>
<path d="M-28.2,-161 C-31.2,-146 -33.4,-126 -33.4,-100 L-33.4,100 C-33.4,126 -31.8,146 -29.8,161"/>
<path d="M-29,-149.59 Q-29,-151.09 -27.5,-151.59 L-7,-153.64 Q-6,-153.94 -6.5,-152.44 Q-21,-148.4 -28.4,-147.1 Q-29,-146.5 -29,-148Z"/>
<path d="M-4.2,-152.8 Q-20,-147.64 -27.8,-145.55"/>
<path d="M-29,-143.4 Q-29,-144.9 -27.5,-145.4 L-7,-147.45 Q-6,-147.75 -6.5,-146.25 Q-21,-142.21 -28.4,-140.91 Q-29,-140.31 -29,-141.81Z"/>
<path d="M-4.2,-146.61 Q-20,-141.45 -27.8,-139.36"/>
<path d="M-29,-137.06 Q-29,-138.56 -27.5,-139.06 L-7,-141.67 Q-6,-141.97 -6.5,-140.47 Q-21,-135.02 -28.4,-133.35 Q-29,-132.75 -29,-134.25Z"/>
<path d="M-4.2,-140.6 Q-20,-134.12 -27.8,-131.61"/>
<path d="M-29,-129.65 Q-29,-131.15 -27.5,-131.65 L-7,-134.26 Q-6,-134.56 -6.5,-133.06 Q-21,-127.62 -28.4,-125.94 Q-29,-125.34 -29,-126.84Z"/>
<path d="M-4.2,-133.2 Q-20,-126.71 -27.8,-124.21"/>
<path d="M-29,-122.46 Q-29,-123.96 -27.5,-124.46 L-7,-129.36 Q-6,-129.66 -6.5,-128.16 Q-21,-116.92 -28.4,-113.72 Q-29,-113.12 -29,-114.62Z"/>
<path d="M-4.2,-127.38 Q-20,-115.4 -27.8,-111.22"/>
<path d="M-29,-110.45 Q-29,-111.95 -27.5,-112.45 L-7,-118.52 Q-6,-118.82 -6.5,-117.32 Q-21,-103.08 -28.4,-99.1 Q-29,-98.5 -29,-100Z"/>
<path d="M-4.2,-116.07 Q-20,-101.24 -27.8,-96.21"/>
<path d="M-29,-95.59 Q-29,-97.09 -27.5,-97.59 L-7,-104.29 Q-6,-104.59 -6.5,-103.09 Q-21,-86.24 -28.4,-81.84 Q-29,-81.24 -29,-82.74Z"/>
<path d="M-4.2,-101.59 Q-20,-84.24 -27.8,-78.74"/>
<path d="M-29,-78.14 Q-29,-79.64 -27.5,-80.14 L-7,-86.84 Q-6,-87.14 -6.5,-85.64 Q-21,-67.45 -28.4,-63.05 Q-29,-62.45 -29,-63.95Z"/>
<path d="M-4.2,-84.14 Q-20,-65.45 -27.8,-59.95"/>
<path d="M-29,-59.35 Q-29,-60.85 -27.5,-61.35 L-7,-68.05 Q-6,-68.35 -6.5,-66.85 Q-21,-48.66 -28.4,-44.26 Q-29,-43.66 -29,-45.16Z"/>
<path d="M-4.2,-65.35 Q-20,-46.66 -27.8,-41.16"/>
<path d="M-29,-40.56 Q-29,-42.06 -27.5,-42.56 L-7,-49.26 Q-6,-49.56 -6.5,-48.06 Q-21,-28.85 -28.4,-24.45 Q-29,-23.85 -29,-25.35Z"/>
<path d="M-4.2,-46.56 Q-20,-26.85 -27.8,-21.35"/>
<path d="M-29,-20.74 Q-29,-22.24 -27.5,-22.74 L-7,-29.19 Q-6,-29.49 -6.5,-27.99 Q-21,-12.77 -28.4,-8.55 Q-29,-7.95 -29,-9.45Z"/>
<path d="M-4.2,-26.59 Q-20,-10.84 -27.8,-5.53"/>
<path d="M-29,-4.88 Q-29,-6.38 -27.5,-6.88 L-7,-12.53 Q-6,-12.83 -6.5,-11.33 Q-21,1.68 -28.4,5.38 Q-29,5.98 -29,4.48Z"/>
<path d="M-4.2,-10.25 Q-20,3.4 -27.8,8.13"/>
<path d="M-29,9.04 Q-29,7.54 -27.5,7.04 L-7,1.95 Q-6,1.65 -6.5,3.15 Q-21,14.62 -28.4,17.95 Q-29,18.55 -29,17.05Z"/>
<path d="M-4.2,4.01 Q-20,16.19 -27.8,20.51"/>
<path d="M-29,21.69 Q-29,20.19 -27.5,19.69 L-7,14.09 Q-6,13.79 -6.5,15.29 Q-21,28.04 -28.4,31.7 Q-29,32.3 -29,30.8Z"/>
<path d="M-4.2,16.35 Q-20,29.74 -27.8,34.44"/>
<path d="M-29,35.35 Q-29,33.85 -27.5,33.35 L-7,28.31 Q-6,28.01 -6.5,29.51 Q-21,40.87 -28.4,44.16 Q-29,44.76 -29,43.26Z"/>
<path d="M-4.2,30.35 Q-20,42.43 -27.8,46.71"/>
<path d="M-29,47.93 Q-29,46.43 -27.5,45.93 L-7,40.19 Q-6,39.89 -6.5,41.39 Q-21,54.49 -28.4,58.25 Q-29,58.85 -29,57.35Z"/>
<path d="M-4.2,42.51 Q-20,56.23 -27.8,61.03"/>
<path d="M-29,62.05 Q-29,60.55 -27.5,60.05 L-7,53.37 Q-6,53.07 -6.5,54.57 Q-21,69.99 -28.4,74.37 Q-29,74.97 -29,73.47Z"/>
<path d="M-4.2,56.06 Q-20,71.98 -27.8,77.47"/>
<path d="M-29,78 Q-29,76.5 -27.5,76 L-7,69.98 Q-6,69.68 -6.5,71.18 Q-21,84.97 -28.4,88.92 Q-29,89.52 -29,88.02Z"/>
<path d="M-4.2,72.4 Q-20,86.79 -27.8,91.79"/>
<path d="M-29,92.62 Q-29,91.12 -27.5,90.62 L-7,84.59 Q-6,84.29 -6.5,85.79 Q-21,99.83 -28.4,103.78 Q-29,104.38 -29,102.88Z"/>
<path d="M-4.2,87.02 Q-20,101.65 -27.8,106.65"/>
<path d="M-29,107.48 Q-29,105.98 -27.5,105.48 L-7,99.45 Q-6,99.15 -6.5,100.65 Q-21,115.17 -28.4,119.12 Q-29,119.72 -29,118.22Z"/>
<path d="M-4.2,101.88 Q-20,116.99 -27.8,122"/>
<path d="M-29,122.66 Q-29,121.16 -27.5,120.66 L-7,115.2 Q-6,114.9 -6.5,116.4 Q-21,129.41 -28.4,132.99 Q-29,133.59 -29,132.09Z"/>
<path d="M-4.2,117.4 Q-20,131.08 -27.8,135.67"/>
<path d="M-29,135.86 Q-29,134.36 -27.5,133.86 L-7,130.64 Q-6,130.34 -6.5,131.84 Q-21,138.96 -28.4,141.04 Q-29,141.64 -29,140.14Z"/>
<path d="M-4.2,131.95 Q-20,140.04 -27.8,142.98"/>
<path d="M-29,144.57 Q-29,143.07 -27.5,142.57 L-7,140.01 Q-6,139.71 -6.5,141.21 Q-21,146.66 -28.4,148.3 Q-29,148.9 -29,147.4Z"/>
<path d="M-4.2,141.05 Q-20,147.56 -27.8,150.03"/>
<path d="M-29,151.88 Q-29,150.38 -27.5,149.88 L-7,147.78 Q-6,147.48 -6.5,148.98 Q-21,153.25 -28.4,154.58 Q-29,155.18 -29,153.68Z"/>
<path d="M-4.2,148.64 Q-20,154.02 -27.8,156.15"/>
<path d="M-3.6,-162 Q-5.2,0 -3.6,162"/>
</g><path d="M1.5,-162 Q-0.5,0 1.5,162"/></g>
<path d="M-46,-159.5 L-45.5,-159.59 L-45,-159.68 L-44.5,-159.78 L-44,-159.87 L-43.5,-159.95 L-43,-160.04 L-42.5,-160.13 L-42,-160.22 L-41.5,-160.3 L-41,-160.38 L-40.5,-160.47 L-40,-160.55 L-39.5,-160.63 L-39,-160.71 L-38.5,-160.79 L-38,-160.87 L-37.5,-160.94 L-37,-161.02 L-36.5,-161.09 L-36,-161.17 L-35.5,-161.24 L-35,-161.31 L-34.5,-161.38 L-34,-161.45 L-33.5,-161.52 L-33,-161.59 L-32.5,-161.65 L-32,-161.72 L-31.5,-161.78 L-31,-161.85 L-30.5,-161.91 L-30,-161.61 L-29.5,-160.76 L-29,-159.91 L-28.5,-159.06 L-28,-158.21 L-27.5,-159.17 L-27,-160.14 L-26.5,-161.1 L-26,-162.06 L-25.5,-162.48 L-25,-162.53 L-24.5,-162.58 L-24,-162.63 L-23.5,-162.68 L-23,-162.72 L-22.5,-162.77 L-22,-162.82 L-21.5,-162.86 L-21,-162.9 L-20.5,-162.95 L-20,-162.99 L-19.5,-163.03 L-19,-163.07 L-18.5,-163.1 L-18,-163.14 L-17.5,-163.18 L-17,-163.21 L-16.5,-163.25 L-16,-163.28 L-15.5,-163.31 L-15,-163.34 L-14.5,-163.37 L-14,-163.4 L-13.5,-163.43 L-13,-163.46 L-12.5,-163.48 L-12,-163.51 L-11.5,-163.53 L-11,-163.55 L-10.5,-163.08 L-10,-162.6 L-9.5,-162.12 L-9,-161.64 L-8.5,-161.75 L-8,-162.27 L-7.5,-162.79 L-7,-163.3 L-6.5,-163.71 L-6,-163.73 L-5.5,-163.74 L-5,-163.75 L-4.5,-163.73 L-4,-163.7 L-3.5,-163.68 L-3,-163.65 L-2.5,-163.62 L-2,-163.59 L-1.5,-163.57 L-1,-163.54 L-0.5,-163.5 L0,-163.47 L0.5,-163.44 L1,-163.4 L1.5,-163.37 L2,-163.33 L2.5,-163.29 L3,-163.26 L3.5,-163.22 L4,-163.18 L4.5,-163.13 L5,-163.09 L5.5,-163.05 L6,-163 L6.5,-162.96 L7,-162.91 L7.5,-162.86 L8,-162.82 L8.5,-162.77 L9,-162.72 L9.5,-162.66 L10,-162.61 L10.5,-162.56 L11,-162.5 L11.5,-162.45 L12,-162.39 L12.5,-162.33 L13,-162.27 L13.5,-162.21 L14,-162.15 L14.5,-162.09 L15,-162.03 L15.5,-161.96 L16,-161.9 L16.5,-161.83 L17,-161.77 L17.5,-161.7 L18,-161.63 L18.5,-161.56 L19,-161.49 L19.5,-161.42 L20,-161.34 L20.5,-161.27 L21,-161.2 L21.5,-161.12 L22,-161.04 L22.5,-160.96 L23,-160.88 L23.5,-160.8 L24,-160.72 L24.5,-160.64 L25,-160.56 L25.5,-160.29 L26,-159.3 L26.5,-158.3 L27,-157.31 L27.5,-156.31 L28,-156.77 L28.5,-157.58 L29,-158.4 L29.5,-159.22 L30,-159.67 L30.5,-159.61 L31,-159.55 L31.5,-159.48 L32,-159.42 L32.5,-159.35 L33,-159.29 L33.5,-159.22 L34,-159.15 L34.5,-159.08 L35,-159.01 L35.5,-158.94 L36,-158.87 L36.5,-158.79 L37,-158.72 L37.5,-158.64 L38,-158.57 L38.5,-158.49 L39,-158.41 L39.5,-158.33 L40,-158.25 L40.5,-158.17 L41,-158.08 L41.5,-158 L42,-157.92 L42.5,-157.83 L43,-157.74 L43.5,-157.65 L44,-157.57 L44.5,-157.48 L45,-157.38 L45.5,-157.29 L46,-157.2 L47.97,-156.8 L49.85,-156.17 L51.64,-155.29 L53.31,-154.13 L54.86,-152.68 L56.25,-150.9 L57.48,-148.77 L58.52,-146.27 L59.36,-143.36 L59.98,-140.03 L60.37,-136.25 L60.5,-132 L60.68,-127.2 L60.85,-122.4 L61.02,-117.6 L61.17,-112.8 L61.33,-108 L61.47,-103.2 L61.61,-98.4 L61.74,-93.6 L61.87,-88.8 L61.99,-84 L62.1,-79.2 L62.21,-74.4 L62.3,-69.6 L62.4,-64.8 L62.48,-60 L62.56,-55.2 L62.64,-50.4 L62.7,-45.6 L62.76,-40.8 L62.81,-36 L62.86,-31.2 L62.9,-26.4 L62.93,-21.6 L62.96,-16.8 L62.98,-12 L62.99,-7.2 L63,-2.4 L63,2.4 L62.99,7.2 L62.98,12 L62.96,16.8 L62.93,21.6 L62.9,26.4 L62.86,31.2 L62.81,36 L62.76,40.8 L62.7,45.6 L62.64,50.4 L62.56,55.2 L62.48,60 L62.4,64.8 L62.3,69.6 L62.21,74.4 L62.1,79.2 L61.99,84 L61.87,88.8 L61.74,93.6 L61.61,98.4 L61.47,103.2 L61.33,108 L61.17,112.8 L61.02,117.6 L60.85,122.4 L60.68,127.2 L60.5,132 L60.37,136.4 L59.98,140.36 L59.36,143.89 L58.52,147.02 L57.48,149.76 L56.25,152.12 L54.86,154.14 L53.31,155.81 L51.64,157.17 L49.85,158.23 L47.97,159 L46,159.5 L45.5,159.59 L45,159.68 L44.5,159.78 L44,159.87 L43.5,159.95 L43,160.04 L42.5,160.13 L42,160.22 L41.5,160.3 L41,160.38 L40.5,160.47 L40,160.55 L39.5,160.63 L39,160.71 L38.5,160.79 L38,160.87 L37.5,160.94 L37,161.02 L36.5,161.09 L36,161.17 L35.5,161.24 L35,161.31 L34.5,161.38 L34,161.45 L33.5,161.52 L33,161.59 L32.5,161.65 L32,161.72 L31.5,161.78 L31,161.85 L30.5,161.91 L30,161.97 L29.5,161.55 L29,160.82 L28.5,160.08 L28,159.34 L27.5,158.92 L27,159.77 L26.5,160.62 L26,161.47 L25.5,162.32 L25,162.53 L24.5,162.58 L24,162.63 L23.5,162.68 L23,162.72 L22.5,162.77 L22,162.82 L21.5,162.86 L21,162.9 L20.5,162.95 L20,162.99 L19.5,163.03 L19,163.07 L18.5,163.1 L18,163.14 L17.5,163.18 L17,163.21 L16.5,163.25 L16,163.28 L15.5,163.31 L15,163.34 L14.5,163.37 L14,163.4 L13.5,163.43 L13,163.46 L12.5,163.48 L12,163.51 L11.5,163.53 L11,163.55 L10.5,163.58 L10,163.6 L9.5,163.62 L9,163.64 L8.5,163.65 L8,163.67 L7.5,163.69 L7,163.7 L6.5,163.71 L6,163.73 L5.5,163.74 L5,163.75 L4.5,163.76 L4,163.77 L3.5,163.78 L3,163.78 L2.5,163.79 L2,163.79 L1.5,163.8 L1,163.8 L0.5,163.8 L0,163.62 L-0.5,163.16 L-1,162.71 L-1.5,162.25 L-2,161.79 L-2.5,162.24 L-3,162.69 L-3.5,163.14 L-4,163.59 L-4.5,163.76 L-5,163.75 L-5.5,163.74 L-6,163.73 L-6.5,163.71 L-7,163.7 L-7.5,163.69 L-8,163.67 L-8.5,163.65 L-9,163.64 L-9.5,163.62 L-10,163.6 L-10.5,163.58 L-11,163.55 L-11.5,163.53 L-12,163.51 L-12.5,163.48 L-13,163.46 L-13.5,163.43 L-14,163.4 L-14.5,163.37 L-15,163.16 L-15.5,162.68 L-16,162.19 L-16.5,161.7 L-17,161.21 L-17.5,161.63 L-18,162.05 L-18.5,162.47 L-19,162.88 L-19.5,163.03 L-20,162.99 L-20.5,162.95 L-21,162.9 L-21.5,162.86 L-22,162.82 L-22.5,162.77 L-23,162.72 L-23.5,162.68 L-24,162.63 L-24.5,162.58 L-25,162.53 L-25.5,162.48 L-26,162.43 L-26.5,162.37 L-27,162.32 L-27.5,161.9 L-28,160.93 L-28.5,159.97 L-29,159 L-29.5,158.03 L-30,158.88 L-30.5,159.73 L-31,160.57 L-31.5,161.42 L-32,161.72 L-32.5,161.65 L-33,161.59 L-33.5,161.52 L-34,161.45 L-34.5,161.38 L-35,161.31 L-35.5,161.24 L-36,161.17 L-36.5,161.09 L-37,161.02 L-37.5,160.94 L-38,160.87 L-38.5,160.79 L-39,160.71 L-39.5,160.63 L-40,160.55 L-40.5,160.47 L-41,160.38 L-41.5,160.3 L-42,160.22 L-42.5,160.13 L-43,160.04 L-43.5,159.95 L-44,159.87 L-44.5,159.78 L-45,159.68 L-45.5,159.59 L-46,159.5 L-47.97,159 L-49.85,158.23 L-51.64,157.17 L-53.31,155.81 L-54.86,154.14 L-56.25,152.12 L-57.48,149.76 L-58.52,147.02 L-59.36,143.89 L-59.98,140.36 L-60.37,136.4 L-60.5,132 L-60.68,127.2 L-60.85,122.4 L-61.02,117.6 L-61.17,112.8 L-61.33,108 L-61.47,103.2 L-61.61,98.4 L-61.74,93.6 L-61.87,88.8 L-61.99,84 L-62.1,79.2 L-62.21,74.4 L-62.3,69.6 L-62.4,64.8 L-62.48,60 L-62.56,55.2 L-62.64,50.4 L-62.7,45.6 L-62.76,40.8 L-62.81,36 L-62.86,31.2 L-62.9,26.4 L-62.93,21.6 L-62.96,16.8 L-62.98,12 L-62.99,7.2 L-63,2.4 L-63,-2.4 L-62.99,-7.2 L-62.98,-12 L-62.96,-16.8 L-62.93,-21.6 L-62.9,-26.4 L-62.86,-31.2 L-62.81,-36 L-62.76,-40.8 L-62.7,-45.6 L-62.64,-50.4 L-62.56,-55.2 L-62.48,-60 L-62.4,-64.8 L-62.3,-69.6 L-62.21,-74.4 L-62.1,-79.2 L-61.99,-84 L-61.87,-88.8 L-61.74,-93.6 L-61.61,-98.4 L-61.47,-103.2 L-61.33,-108 L-61.17,-112.8 L-61.02,-117.6 L-60.85,-122.4 L-60.68,-127.2 L-60.37,-136.4 L-59.98,-140.36 L-59.36,-143.89 L-58.52,-147.02 L-57.48,-149.76 L-56.25,-152.12 L-54.86,-154.14 L-53.31,-155.81 L-51.64,-157.17 L-49.85,-158.23 L-47.97,-159Z" fill="none" stroke="#a5d934" stroke-width="2.4" stroke-linejoin="round"/>
</g>
<g transform="translate(512.4,461) scale(-1,1) rotate(4.8)">
<path d="M-46,-159.5 L-45.5,-159.59 L-45,-159.68 L-44.5,-159.78 L-44,-159.87 L-43.5,-159.95 L-43,-160.04 L-42.5,-160.13 L-42,-160.22 L-41.5,-160.3 L-41,-160.38 L-40.5,-160.47 L-40,-160.55 L-39.5,-160.63 L-39,-160.71 L-38.5,-160.79 L-38,-160.87 L-37.5,-160.94 L-37,-161.02 L-36.5,-161.09 L-36,-161.17 L-35.5,-161.24 L-35,-161.31 L-34.5,-161.38 L-34,-161.45 L-33.5,-161.52 L-33,-161.59 L-32.5,-161.65 L-32,-161.72 L-31.5,-161.78 L-31,-161.85 L-30.5,-161.91 L-30,-161.61 L-29.5,-160.76 L-29,-159.91 L-28.5,-159.06 L-28,-158.21 L-27.5,-159.17 L-27,-160.14 L-26.5,-161.1 L-26,-162.06 L-25.5,-162.48 L-25,-162.53 L-24.5,-162.58 L-24,-162.63 L-23.5,-162.68 L-23,-162.72 L-22.5,-162.77 L-22,-162.82 L-21.5,-162.86 L-21,-162.9 L-20.5,-162.95 L-20,-162.99 L-19.5,-163.03 L-19,-163.07 L-18.5,-163.1 L-18,-163.14 L-17.5,-163.18 L-17,-163.21 L-16.5,-163.25 L-16,-163.28 L-15.5,-163.31 L-15,-163.34 L-14.5,-163.37 L-14,-163.4 L-13.5,-163.43 L-13,-163.46 L-12.5,-163.48 L-12,-163.51 L-11.5,-163.53 L-11,-163.55 L-10.5,-163.08 L-10,-162.6 L-9.5,-162.12 L-9,-161.64 L-8.5,-161.75 L-8,-162.27 L-7.5,-162.79 L-7,-163.3 L-6.5,-163.71 L-6,-163.73 L-5.5,-163.74 L-5,-163.75 L-4.5,-163.73 L-4,-163.7 L-3.5,-163.68 L-3,-163.65 L-2.5,-163.62 L-2,-163.59 L-1.5,-163.57 L-1,-163.54 L-0.5,-163.5 L0,-163.47 L0.5,-163.44 L1,-163.4 L1.5,-163.37 L2,-163.33 L2.5,-163.29 L3,-163.26 L3.5,-163.22 L4,-163.18 L4.5,-163.13 L5,-163.09 L5.5,-163.05 L6,-163 L6.5,-162.96 L7,-162.91 L7.5,-162.86 L8,-162.82 L8.5,-162.77 L9,-162.72 L9.5,-162.66 L10,-162.61 L10.5,-162.56 L11,-162.5 L11.5,-162.45 L12,-162.39 L12.5,-162.33 L13,-162.27 L13.5,-162.21 L14,-162.15 L14.5,-162.09 L15,-162.03 L15.5,-161.96 L16,-161.9 L16.5,-161.83 L17,-161.77 L17.5,-161.7 L18,-161.63 L18.5,-161.56 L19,-161.49 L19.5,-161.42 L20,-161.34 L20.5,-161.27 L21,-161.2 L21.5,-161.12 L22,-161.04 L22.5,-160.96 L23,-160.88 L23.5,-160.8 L24,-160.72 L24.5,-160.64 L25,-160.56 L25.5,-160.29 L26,-159.3 L26.5,-158.3 L27,-157.31 L27.5,-156.31 L28,-156.77 L28.5,-157.58 L29,-158.4 L29.5,-159.22 L30,-159.67 L30.5,-159.61 L31,-159.55 L31.5,-159.48 L32,-159.42 L32.5,-159.35 L33,-159.29 L33.5,-159.22 L34,-159.15 L34.5,-159.08 L35,-159.01 L35.5,-158.94 L36,-158.87 L36.5,-158.79 L37,-158.72 L37.5,-158.64 L38,-158.57 L38.5,-158.49 L39,-158.41 L39.5,-158.33 L40,-158.25 L40.5,-158.17 L41,-158.08 L41.5,-158 L42,-157.92 L42.5,-157.83 L43,-157.74 L43.5,-157.65 L44,-157.57 L44.5,-157.48 L45,-157.38 L45.5,-157.29 L46,-157.2 L47.97,-156.8 L49.85,-156.17 L51.64,-155.29 L53.31,-154.13 L54.86,-152.68 L56.25,-150.9 L57.48,-148.77 L58.52,-146.27 L59.36,-143.36 L59.98,-140.03 L60.37,-136.25 L60.5,-132 L60.68,-127.2 L60.85,-122.4 L61.02,-117.6 L61.17,-112.8 L61.33,-108 L61.47,-103.2 L61.61,-98.4 L61.74,-93.6 L61.87,-88.8 L61.99,-84 L62.1,-79.2 L62.21,-74.4 L62.3,-69.6 L62.4,-64.8 L62.48,-60 L62.56,-55.2 L62.64,-50.4 L62.7,-45.6 L62.76,-40.8 L62.81,-36 L62.86,-31.2 L62.9,-26.4 L62.93,-21.6 L62.96,-16.8 L62.98,-12 L62.99,-7.2 L63,-2.4 L63,2.4 L62.99,7.2 L62.98,12 L62.96,16.8 L62.93,21.6 L62.9,26.4 L62.86,31.2 L62.81,36 L62.76,40.8 L62.7,45.6 L62.64,50.4 L62.56,55.2 L62.48,60 L62.4,64.8 L62.3,69.6 L62.21,74.4 L62.1,79.2 L61.99,84 L61.87,88.8 L61.74,93.6 L61.61,98.4 L61.47,103.2 L61.33,108 L61.17,112.8 L61.02,117.6 L60.85,122.4 L60.68,127.2 L60.5,132 L60.37,136.4 L59.98,140.36 L59.36,143.89 L58.52,147.02 L57.48,149.76 L56.25,152.12 L54.86,154.14 L53.31,155.81 L51.64,157.17 L49.85,158.23 L47.97,159 L46,159.5 L45.5,159.59 L45,159.68 L44.5,159.78 L44,159.87 L43.5,159.95 L43,160.04 L42.5,160.13 L42,160.22 L41.5,160.3 L41,160.38 L40.5,160.47 L40,160.55 L39.5,160.63 L39,160.71 L38.5,160.79 L38,160.87 L37.5,160.94 L37,161.02 L36.5,161.09 L36,161.17 L35.5,161.24 L35,161.31 L34.5,161.38 L34,161.45 L33.5,161.52 L33,161.59 L32.5,161.65 L32,161.72 L31.5,161.78 L31,161.85 L30.5,161.91 L30,161.97 L29.5,161.55 L29,160.82 L28.5,160.08 L28,159.34 L27.5,158.92 L27,159.77 L26.5,160.62 L26,161.47 L25.5,162.32 L25,162.53 L24.5,162.58 L24,162.63 L23.5,162.68 L23,162.72 L22.5,162.77 L22,162.82 L21.5,162.86 L21,162.9 L20.5,162.95 L20,162.99 L19.5,163.03 L19,163.07 L18.5,163.1 L18,163.14 L17.5,163.18 L17,163.21 L16.5,163.25 L16,163.28 L15.5,163.31 L15,163.34 L14.5,163.37 L14,163.4 L13.5,163.43 L13,163.46 L12.5,163.48 L12,163.51 L11.5,163.53 L11,163.55 L10.5,163.58 L10,163.6 L9.5,163.62 L9,163.64 L8.5,163.65 L8,163.67 L7.5,163.69 L7,163.7 L6.5,163.71 L6,163.73 L5.5,163.74 L5,163.75 L4.5,163.76 L4,163.77 L3.5,163.78 L3,163.78 L2.5,163.79 L2,163.79 L1.5,163.8 L1,163.8 L0.5,163.8 L0,163.62 L-0.5,163.16 L-1,162.71 L-1.5,162.25 L-2,161.79 L-2.5,162.24 L-3,162.69 L-3.5,163.14 L-4,163.59 L-4.5,163.76 L-5,163.75 L-5.5,163.74 L-6,163.73 L-6.5,163.71 L-7,163.7 L-7.5,163.69 L-8,163.67 L-8.5,163.65 L-9,163.64 L-9.5,163.62 L-10,163.6 L-10.5,163.58 L-11,163.55 L-11.5,163.53 L-12,163.51 L-12.5,163.48 L-13,163.46 L-13.5,163.43 L-14,163.4 L-14.5,163.37 L-15,163.16 L-15.5,162.68 L-16,162.19 L-16.5,161.7 L-17,161.21 L-17.5,161.63 L-18,162.05 L-18.5,162.47 L-19,162.88 L-19.5,163.03 L-20,162.99 L-20.5,162.95 L-21,162.9 L-21.5,162.86 L-22,162.82 L-22.5,162.77 L-23,162.72 L-23.5,162.68 L-24,162.63 L-24.5,162.58 L-25,162.53 L-25.5,162.48 L-26,162.43 L-26.5,162.37 L-27,162.32 L-27.5,161.9 L-28,160.93 L-28.5,159.97 L-29,159 L-29.5,158.03 L-30,158.88 L-30.5,159.73 L-31,160.57 L-31.5,161.42 L-32,161.72 L-32.5,161.65 L-33,161.59 L-33.5,161.52 L-34,161.45 L-34.5,161.38 L-35,161.31 L-35.5,161.24 L-36,161.17 L-36.5,161.09 L-37,161.02 L-37.5,160.94 L-38,160.87 L-38.5,160.79 L-39,160.71 L-39.5,160.63 L-40,160.55 L-40.5,160.47 L-41,160.38 L-41.5,160.3 L-42,160.22 L-42.5,160.13 L-43,160.04 L-43.5,159.95 L-44,159.87 L-44.5,159.78 L-45,159.68 L-45.5,159.59 L-46,159.5 L-47.97,159 L-49.85,158.23 L-51.64,157.17 L-53.31,155.81 L-54.86,154.14 L-56.25,152.12 L-57.48,149.76 L-58.52,147.02 L-59.36,143.89 L-59.98,140.36 L-60.37,136.4 L-60.5,132 L-60.68,127.2 L-60.85,122.4 L-61.02,117.6 L-61.17,112.8 L-61.33,108 L-61.47,103.2 L-61.61,98.4 L-61.74,93.6 L-61.87,88.8 L-61.99,84 L-62.1,79.2 L-62.21,74.4 L-62.3,69.6 L-62.4,64.8 L-62.48,60 L-62.56,55.2 L-62.64,50.4 L-62.7,45.6 L-62.76,40.8 L-62.81,36 L-62.86,31.2 L-62.9,26.4 L-62.93,21.6 L-62.96,16.8 L-62.98,12 L-62.99,7.2 L-63,2.4 L-63,-2.4 L-62.99,-7.2 L-62.98,-12 L-62.96,-16.8 L-62.93,-21.6 L-62.9,-26.4 L-62.86,-31.2 L-62.81,-36 L-62.76,-40.8 L-62.7,-45.6 L-62.64,-50.4 L-62.56,-55.2 L-62.48,-60 L-62.4,-64.8 L-62.3,-69.6 L-62.21,-74.4 L-62.1,-79.2 L-61.99,-84 L-61.87,-88.8 L-61.74,-93.6 L-61.61,-98.4 L-61.47,-103.2 L-61.33,-108 L-61.17,-112.8 L-61.02,-117.6 L-60.85,-122.4 L-60.68,-127.2 L-60.37,-136.4 L-59.98,-140.36 L-59.36,-143.89 L-58.52,-147.02 L-57.48,-149.76 L-56.25,-152.12 L-54.86,-154.14 L-53.31,-155.81 L-51.64,-157.17 L-49.85,-158.23 L-47.97,-159Z" fill="#4a5212"/>
<g fill="none" stroke="#71901f" stroke-width="0.75">
<path d="M-56.54,-145.88 Q-55.34,-144.84 -53.54,-144.51 Q-46.87,-150.32 -38.2,-151.85 Q-36.4,-152.5 -37.8,-153.15 Q-46.87,-151.95 -54.04,-145.88 L-56.54,-145.88"/>
<path d="M-58.01,-139.91 Q-56.81,-138.87 -55.01,-138.54 Q-47.6,-144.16 -38.2,-145.66 Q-36.4,-146.31 -37.8,-146.96 Q-47.6,-145.79 -55.51,-139.91 L-58.01,-139.91"/>
<path d="M-58.37,-133.94 Q-57.17,-132.9 -55.37,-132.57 Q-47.78,-137.88 -38.2,-139.47 Q-36.4,-140.12 -37.8,-140.77 Q-47.78,-139.5 -55.87,-133.94 L-58.37,-133.94"/>
<path d="M-58.5,-126.79 Q-57.3,-125.75 -55.5,-125.42 Q-47.85,-130.28 -38.2,-132.06 Q-36.4,-132.71 -37.8,-133.36 Q-47.85,-131.91 -56,-126.79 L-58.5,-126.79"/>
<path d="M-58.5,-119.86 Q-57.3,-118.6 -55.5,-118.24 Q-47.85,-122.62 -38.2,-124.69 Q-36.4,-125.48 -37.8,-126.27 Q-47.85,-124.6 -56,-119.86 L-58.5,-119.86"/>
<path d="M-58.5,-107.36 Q-57.3,-105.61 -55.5,-105.2 Q-47.85,-110.22 -38.2,-113.41 Q-36.4,-114.5 -37.8,-115.59 Q-47.85,-112.94 -56,-107.36 L-58.5,-107.36"/>
<path d="M-58.5,-92.77 Q-57.3,-90.72 -55.5,-90.26 Q-47.85,-94.91 -38.2,-99.04 Q-36.4,-100.32 -37.8,-101.61 Q-47.85,-98.12 -56,-92.77 L-58.5,-92.77"/>
<path d="M-58.5,-76.31 Q-57.3,-74.23 -55.5,-73.77 Q-47.85,-77.2 -38.2,-81.64 Q-36.4,-82.94 -37.8,-84.24 Q-47.85,-80.45 -56,-76.31 L-58.5,-76.31"/>
<path d="M-58.5,-58.62 Q-57.3,-56.54 -55.5,-56.08 Q-47.85,-58.66 -38.2,-62.85 Q-36.4,-64.15 -37.8,-65.45 Q-47.85,-61.91 -56,-58.62 L-58.5,-58.62"/>
<path d="M-58.5,-40.92 Q-57.3,-38.84 -55.5,-38.38 Q-47.85,-40.41 -38.2,-44.06 Q-36.4,-45.36 -37.8,-46.66 Q-47.85,-43.66 -56,-40.92 L-58.5,-40.92"/>
<path d="M-58.5,-22.26 Q-57.3,-20.18 -55.5,-19.72 Q-47.85,-21.18 -38.2,-24.25 Q-36.4,-25.55 -37.8,-26.85 Q-47.85,-24.43 -56,-22.26 L-58.5,-22.26"/>
<path d="M-58.5,-7.22 Q-57.3,-5.32 -55.5,-4.89 Q-47.85,-5.81 -38.2,-8.19 Q-36.4,-9.37 -37.8,-10.56 Q-47.85,-8.77 -56,-7.22 L-58.5,-7.22"/>
<path d="M-58.5,6.4 Q-57.3,8.11 -55.5,8.52 Q-47.85,7.87 -38.2,5.92 Q-36.4,4.85 -37.8,3.78 Q-47.85,5.2 -56,6.4 L-58.5,6.4"/>
<path d="M-58.5,18.91 Q-57.3,20.61 -55.5,21.03 Q-47.85,20.42 -38.2,18.53 Q-36.4,17.47 -37.8,16.4 Q-47.85,17.76 -56,18.91 L-58.5,18.91"/>
<path d="M-58.5,32.51 Q-57.3,34.21 -55.5,34.62 Q-47.85,34.08 -38.2,32.25 Q-36.4,31.19 -37.8,30.12 Q-47.85,31.43 -56,32.51 L-58.5,32.51"/>
<path d="M-58.5,44.91 Q-57.3,46.63 -55.5,47.04 Q-47.85,46.55 -38.2,44.75 Q-36.4,43.67 -37.8,42.6 Q-47.85,43.86 -56,44.91 L-58.5,44.91"/>
<path d="M-58.5,58.69 Q-57.3,60.63 -55.5,61.07 Q-47.85,60.6 -38.2,58.63 Q-36.4,57.41 -37.8,56.2 Q-47.85,57.56 -56,58.69 L-58.5,58.69"/>
<path d="M-58.5,74.54 Q-57.3,76.52 -55.5,76.97 Q-47.85,76.5 -38.2,74.63 Q-36.4,73.39 -37.8,72.15 Q-47.85,73.41 -56,74.54 L-58.5,74.54"/>
<path d="M-58.5,89.08 Q-57.3,90.97 -55.5,91.4 Q-47.85,90.89 -38.2,89.3 Q-36.4,88.11 -37.8,86.93 Q-47.85,87.93 -56,89.08 L-58.5,89.08"/>
<path d="M-58.5,103.32 Q-57.3,105.21 -55.5,105.65 Q-47.85,105.41 -38.2,104.16 Q-36.4,102.97 -37.8,101.79 Q-47.85,102.45 -56,103.32 L-58.5,103.32"/>
<path d="M-58.5,117.18 Q-57.3,118.99 -55.5,119.42 Q-47.85,120.22 -38.2,119.5 Q-36.4,118.36 -37.8,117.23 Q-47.85,117.39 -56,117.18 L-58.5,117.18"/>
<path d="M-58.48,130.45 Q-57.28,131.88 -55.48,132.25 Q-47.84,133.75 -38.2,133.37 Q-36.4,132.48 -37.8,131.59 Q-47.84,131.52 -55.98,130.45 L-58.48,130.45"/>
<path d="M-58.12,139.23 Q-56.92,140.27 -55.12,140.6 Q-47.66,142.36 -38.2,142.17 Q-36.4,141.52 -37.8,140.87 Q-47.66,140.74 -55.62,139.23 L-58.12,139.23"/>
<path d="M-56.48,146.15 Q-55.28,147.19 -53.48,147.52 Q-46.84,149.72 -38.2,149.61 Q-36.4,148.96 -37.8,148.31 Q-46.84,148.09 -53.98,146.15 L-56.48,146.15"/>
<path d="M-53.68,152.11 Q-52.48,153.15 -50.68,153.48 Q-45.44,156.05 -38.2,156.01 Q-36.4,155.36 -37.8,154.71 Q-45.44,154.43 -51.18,152.11 L-53.68,152.11"/>
<path d="M-30.2,-161 C-33.2,-146 -35.6,-126 -35.6,-100 L-35.6,100 C-35.6,126 -34,146 -32,161"/>
<path d="M-28.2,-161 C-31.2,-146 -33.4,-126 -33.4,-100 L-33.4,100 C-33.4,126 -31.8,146 -29.8,161"/>
<path d="M-29,-149.59 Q-29,-151.09 -27.5,-151.59 L-7,-153.64 Q-6,-153.94 -6.5,-152.44 Q-21,-148.4 -28.4,-147.1 Q-29,-146.5 -29,-148Z"/>
<path d="M-4.2,-152.8 Q-20,-147.64 -27.8,-145.55"/>
<path d="M-29,-143.4 Q-29,-144.9 -27.5,-145.4 L-7,-147.45 Q-6,-147.75 -6.5,-146.25 Q-21,-142.21 -28.4,-140.91 Q-29,-140.31 -29,-141.81Z"/>
<path d="M-4.2,-146.61 Q-20,-141.45 -27.8,-139.36"/>
<path d="M-29,-137.06 Q-29,-138.56 -27.5,-139.06 L-7,-141.67 Q-6,-141.97 -6.5,-140.47 Q-21,-135.02 -28.4,-133.35 Q-29,-132.75 -29,-134.25Z"/>
<path d="M-4.2,-140.6 Q-20,-134.12 -27.8,-131.61"/>
<path d="M-29,-129.65 Q-29,-131.15 -27.5,-131.65 L-7,-134.26 Q-6,-134.56 -6.5,-133.06 Q-21,-127.62 -28.4,-125.94 Q-29,-125.34 -29,-126.84Z"/>
<path d="M-4.2,-133.2 Q-20,-126.71 -27.8,-124.21"/>
<path d="M-29,-122.46 Q-29,-123.96 -27.5,-124.46 L-7,-129.36 Q-6,-129.66 -6.5,-128.16 Q-21,-116.92 -28.4,-113.72 Q-29,-113.12 -29,-114.62Z"/>
<path d="M-4.2,-127.38 Q-20,-115.4 -27.8,-111.22"/>
<path d="M-29,-110.45 Q-29,-111.95 -27.5,-112.45 L-7,-118.52 Q-6,-118.82 -6.5,-117.32 Q-21,-103.08 -28.4,-99.1 Q-29,-98.5 -29,-100Z"/>
<path d="M-4.2,-116.07 Q-20,-101.24 -27.8,-96.21"/>
<path d="M-29,-95.59 Q-29,-97.09 -27.5,-97.59 L-7,-104.29 Q-6,-104.59 -6.5,-103.09 Q-21,-86.24 -28.4,-81.84 Q-29,-81.24 -29,-82.74Z"/>
<path d="M-4.2,-101.59 Q-20,-84.24 -27.8,-78.74"/>
<path d="M-29,-78.14 Q-29,-79.64 -27.5,-80.14 L-7,-86.84 Q-6,-87.14 -6.5,-85.64 Q-21,-67.45 -28.4,-63.05 Q-29,-62.45 -29,-63.95Z"/>
<path d="M-4.2,-84.14 Q-20,-65.45 -27.8,-59.95"/>
<path d="M-29,-59.35 Q-29,-60.85 -27.5,-61.35 L-7,-68.05 Q-6,-68.35 -6.5,-66.85 Q-21,-48.66 -28.4,-44.26 Q-29,-43.66 -29,-45.16Z"/>
<path d="M-4.2,-65.35 Q-20,-46.66 -27.8,-41.16"/>
<path d="M-29,-40.56 Q-29,-42.06 -27.5,-42.56 L-7,-49.26 Q-6,-49.56 -6.5,-48.06 Q-21,-28.85 -28.4,-24.45 Q-29,-23.85 -29,-25.35Z"/>
<path d="M-4.2,-46.56 Q-20,-26.85 -27.8,-21.35"/>
<path d="M-29,-20.74 Q-29,-22.24 -27.5,-22.74 L-7,-29.19 Q-6,-29.49 -6.5,-27.99 Q-21,-12.77 -28.4,-8.55 Q-29,-7.95 -29,-9.45Z"/>
<path d="M-4.2,-26.59 Q-20,-10.84 -27.8,-5.53"/>
<path d="M-29,-4.88 Q-29,-6.38 -27.5,-6.88 L-7,-12.53 Q-6,-12.83 -6.5,-11.33 Q-21,1.68 -28.4,5.38 Q-29,5.98 -29,4.48Z"/>
<path d="M-4.2,-10.25 Q-20,3.4 -27.8,8.13"/>
<path d="M-29,9.04 Q-29,7.54 -27.5,7.04 L-7,1.95 Q-6,1.65 -6.5,3.15 Q-21,14.62 -28.4,17.95 Q-29,18.55 -29,17.05Z"/>
<path d="M-4.2,4.01 Q-20,16.19 -27.8,20.51"/>
<path d="M-29,21.69 Q-29,20.19 -27.5,19.69 L-7,14.09 Q-6,13.79 -6.5,15.29 Q-21,28.04 -28.4,31.7 Q-29,32.3 -29,30.8Z"/>
<path d="M-4.2,16.35 Q-20,29.74 -27.8,34.44"/>
<path d="M-29,35.35 Q-29,33.85 -27.5,33.35 L-7,28.31 Q-6,28.01 -6.5,29.51 Q-21,40.87 -28.4,44.16 Q-29,44.76 -29,43.26Z"/>
<path d="M-4.2,30.35 Q-20,42.43 -27.8,46.71"/>
<path d="M-29,47.93 Q-29,46.43 -27.5,45.93 L-7,40.19 Q-6,39.89 -6.5,41.39 Q-21,54.49 -28.4,58.25 Q-29,58.85 -29,57.35Z"/>
<path d="M-4.2,42.51 Q-20,56.23 -27.8,61.03"/>
<path d="M-29,62.05 Q-29,60.55 -27.5,60.05 L-7,53.37 Q-6,53.07 -6.5,54.57 Q-21,69.99 -28.4,74.37 Q-29,74.97 -29,73.47Z"/>
<path d="M-4.2,56.06 Q-20,71.98 -27.8,77.47"/>
<path d="M-29,78 Q-29,76.5 -27.5,76 L-7,69.98 Q-6,69.68 -6.5,71.18 Q-21,84.97 -28.4,88.92 Q-29,89.52 -29,88.02Z"/>
<path d="M-4.2,72.4 Q-20,86.79 -27.8,91.79"/>
<path d="M-29,92.62 Q-29,91.12 -27.5,90.62 L-7,84.59 Q-6,84.29 -6.5,85.79 Q-21,99.83 -28.4,103.78 Q-29,104.38 -29,102.88Z"/>
<path d="M-4.2,87.02 Q-20,101.65 -27.8,106.65"/>
<path d="M-29,107.48 Q-29,105.98 -27.5,105.48 L-7,99.45 Q-6,99.15 -6.5,100.65 Q-21,115.17 -28.4,119.12 Q-29,119.72 -29,118.22Z"/>
<path d="M-4.2,101.88 Q-20,116.99 -27.8,122"/>
<path d="M-29,122.66 Q-29,121.16 -27.5,120.66 L-7,115.2 Q-6,114.9 -6.5,116.4 Q-21,129.41 -28.4,132.99 Q-29,133.59 -29,132.09Z"/>
<path d="M-4.2,117.4 Q-20,131.08 -27.8,135.67"/>
<path d="M-29,135.86 Q-29,134.36 -27.5,133.86 L-7,130.64 Q-6,130.34 -6.5,131.84 Q-21,138.96 -28.4,141.04 Q-29,141.64 -29,140.14Z"/>
<path d="M-4.2,131.95 Q-20,140.04 -27.8,142.98"/>
<path d="M-29,144.57 Q-29,143.07 -27.5,142.57 L-7,140.01 Q-6,139.71 -6.5,141.21 Q-21,146.66 -28.4,148.3 Q-29,148.9 -29,147.4Z"/>
<path d="M-4.2,141.05 Q-20,147.56 -27.8,150.03"/>
<path d="M-29,151.88 Q-29,150.38 -27.5,149.88 L-7,147.78 Q-6,147.48 -6.5,148.98 Q-21,153.25 -28.4,154.58 Q-29,155.18 -29,153.68Z"/>
<path d="M-4.2,148.64 Q-20,154.02 -27.8,156.15"/>
<path d="M-3.6,-162 Q-5.2,0 -3.6,162"/>
<g transform="scale(-1,1)">
<path d="M-56.54,-145.88 Q-55.34,-144.84 -53.54,-144.51 Q-46.87,-150.32 -38.2,-151.85 Q-36.4,-152.5 -37.8,-153.15 Q-46.87,-151.95 -54.04,-145.88 L-56.54,-145.88"/>
<path d="M-58.01,-139.91 Q-56.81,-138.87 -55.01,-138.54 Q-47.6,-144.16 -38.2,-145.66 Q-36.4,-146.31 -37.8,-146.96 Q-47.6,-145.79 -55.51,-139.91 L-58.01,-139.91"/>
<path d="M-58.37,-133.94 Q-57.17,-132.9 -55.37,-132.57 Q-47.78,-137.88 -38.2,-139.47 Q-36.4,-140.12 -37.8,-140.77 Q-47.78,-139.5 -55.87,-133.94 L-58.37,-133.94"/>
<path d="M-58.5,-126.79 Q-57.3,-125.75 -55.5,-125.42 Q-47.85,-130.28 -38.2,-132.06 Q-36.4,-132.71 -37.8,-133.36 Q-47.85,-131.91 -56,-126.79 L-58.5,-126.79"/>
<path d="M-58.5,-119.86 Q-57.3,-118.6 -55.5,-118.24 Q-47.85,-122.62 -38.2,-124.69 Q-36.4,-125.48 -37.8,-126.27 Q-47.85,-124.6 -56,-119.86 L-58.5,-119.86"/>
<path d="M-58.5,-107.36 Q-57.3,-105.61 -55.5,-105.2 Q-47.85,-110.22 -38.2,-113.41 Q-36.4,-114.5 -37.8,-115.59 Q-47.85,-112.94 -56,-107.36 L-58.5,-107.36"/>
<path d="M-58.5,-92.77 Q-57.3,-90.72 -55.5,-90.26 Q-47.85,-94.91 -38.2,-99.04 Q-36.4,-100.32 -37.8,-101.61 Q-47.85,-98.12 -56,-92.77 L-58.5,-92.77"/>
<path d="M-58.5,-76.31 Q-57.3,-74.23 -55.5,-73.77 Q-47.85,-77.2 -38.2,-81.64 Q-36.4,-82.94 -37.8,-84.24 Q-47.85,-80.45 -56,-76.31 L-58.5,-76.31"/>
<path d="M-58.5,-58.62 Q-57.3,-56.54 -55.5,-56.08 Q-47.85,-58.66 -38.2,-62.85 Q-36.4,-64.15 -37.8,-65.45 Q-47.85,-61.91 -56,-58.62 L-58.5,-58.62"/>
<path d="M-58.5,-40.92 Q-57.3,-38.84 -55.5,-38.38 Q-47.85,-40.41 -38.2,-44.06 Q-36.4,-45.36 -37.8,-46.66 Q-47.85,-43.66 -56,-40.92 L-58.5,-40.92"/>
<path d="M-58.5,-22.26 Q-57.3,-20.18 -55.5,-19.72 Q-47.85,-21.18 -38.2,-24.25 Q-36.4,-25.55 -37.8,-26.85 Q-47.85,-24.43 -56,-22.26 L-58.5,-22.26"/>
<path d="M-58.5,-7.22 Q-57.3,-5.32 -55.5,-4.89 Q-47.85,-5.81 -38.2,-8.19 Q-36.4,-9.37 -37.8,-10.56 Q-47.85,-8.77 -56,-7.22 L-58.5,-7.22"/>
<path d="M-58.5,6.4 Q-57.3,8.11 -55.5,8.52 Q-47.85,7.87 -38.2,5.92 Q-36.4,4.85 -37.8,3.78 Q-47.85,5.2 -56,6.4 L-58.5,6.4"/>
<path d="M-58.5,18.91 Q-57.3,20.61 -55.5,21.03 Q-47.85,20.42 -38.2,18.53 Q-36.4,17.47 -37.8,16.4 Q-47.85,17.76 -56,18.91 L-58.5,18.91"/>
<path d="M-58.5,32.51 Q-57.3,34.21 -55.5,34.62 Q-47.85,34.08 -38.2,32.25 Q-36.4,31.19 -37.8,30.12 Q-47.85,31.43 -56,32.51 L-58.5,32.51"/>
<path d="M-58.5,44.91 Q-57.3,46.63 -55.5,47.04 Q-47.85,46.55 -38.2,44.75 Q-36.4,43.67 -37.8,42.6 Q-47.85,43.86 -56,44.91 L-58.5,44.91"/>
<path d="M-58.5,58.69 Q-57.3,60.63 -55.5,61.07 Q-47.85,60.6 -38.2,58.63 Q-36.4,57.41 -37.8,56.2 Q-47.85,57.56 -56,58.69 L-58.5,58.69"/>
<path d="M-58.5,74.54 Q-57.3,76.52 -55.5,76.97 Q-47.85,76.5 -38.2,74.63 Q-36.4,73.39 -37.8,72.15 Q-47.85,73.41 -56,74.54 L-58.5,74.54"/>
<path d="M-58.5,89.08 Q-57.3,90.97 -55.5,91.4 Q-47.85,90.89 -38.2,89.3 Q-36.4,88.11 -37.8,86.93 Q-47.85,87.93 -56,89.08 L-58.5,89.08"/>
<path d="M-58.5,103.32 Q-57.3,105.21 -55.5,105.65 Q-47.85,105.41 -38.2,104.16 Q-36.4,102.97 -37.8,101.79 Q-47.85,102.45 -56,103.32 L-58.5,103.32"/>
<path d="M-58.5,117.18 Q-57.3,118.99 -55.5,119.42 Q-47.85,120.22 -38.2,119.5 Q-36.4,118.36 -37.8,117.23 Q-47.85,117.39 -56,117.18 L-58.5,117.18"/>
<path d="M-58.48,130.45 Q-57.28,131.88 -55.48,132.25 Q-47.84,133.75 -38.2,133.37 Q-36.4,132.48 -37.8,131.59 Q-47.84,131.52 -55.98,130.45 L-58.48,130.45"/>
<path d="M-58.12,139.23 Q-56.92,140.27 -55.12,140.6 Q-47.66,142.36 -38.2,142.17 Q-36.4,141.52 -37.8,140.87 Q-47.66,140.74 -55.62,139.23 L-58.12,139.23"/>
<path d="M-56.48,146.15 Q-55.28,147.19 -53.48,147.52 Q-46.84,149.72 -38.2,149.61 Q-36.4,148.96 -37.8,148.31 Q-46.84,148.09 -53.98,146.15 L-56.48,146.15"/>
<path d="M-53.68,152.11 Q-52.48,153.15 -50.68,153.48 Q-45.44,156.05 -38.2,156.01 Q-36.4,155.36 -37.8,154.71 Q-45.44,154.43 -51.18,152.11 L-53.68,152.11"/>
<path d="M-30.2,-161 C-33.2,-146 -35.6,-126 -35.6,-100 L-35.6,100 C-35.6,126 -34,146 -32,161"/>
<path d="M-28.2,-161 C-31.2,-146 -33.4,-126 -33.4,-100 L-33.4,100 C-33.4,126 -31.8,146 -29.8,161"/>
<path d="M-29,-149.59 Q-29,-151.09 -27.5,-151.59 L-7,-153.64 Q-6,-153.94 -6.5,-152.44 Q-21,-148.4 -28.4,-147.1 Q-29,-146.5 -29,-148Z"/>
<path d="M-4.2,-152.8 Q-20,-147.64 -27.8,-145.55"/>
<path d="M-29,-143.4 Q-29,-144.9 -27.5,-145.4 L-7,-147.45 Q-6,-147.75 -6.5,-146.25 Q-21,-142.21 -28.4,-140.91 Q-29,-140.31 -29,-141.81Z"/>
<path d="M-4.2,-146.61 Q-20,-141.45 -27.8,-139.36"/>
<path d="M-29,-137.06 Q-29,-138.56 -27.5,-139.06 L-7,-141.67 Q-6,-141.97 -6.5,-140.47 Q-21,-135.02 -28.4,-133.35 Q-29,-132.75 -29,-134.25Z"/>
<path d="M-4.2,-140.6 Q-20,-134.12 -27.8,-131.61"/>
<path d="M-29,-129.65 Q-29,-131.15 -27.5,-131.65 L-7,-134.26 Q-6,-134.56 -6.5,-133.06 Q-21,-127.62 -28.4,-125.94 Q-29,-125.34 -29,-126.84Z"/>
<path d="M-4.2,-133.2 Q-20,-126.71 -27.8,-124.21"/>
<path d="M-29,-122.46 Q-29,-123.96 -27.5,-124.46 L-7,-129.36 Q-6,-129.66 -6.5,-128.16 Q-21,-116.92 -28.4,-113.72 Q-29,-113.12 -29,-114.62Z"/>
<path d="M-4.2,-127.38 Q-20,-115.4 -27.8,-111.22"/>
<path d="M-29,-110.45 Q-29,-111.95 -27.5,-112.45 L-7,-118.52 Q-6,-118.82 -6.5,-117.32 Q-21,-103.08 -28.4,-99.1 Q-29,-98.5 -29,-100Z"/>
<path d="M-4.2,-116.07 Q-20,-101.24 -27.8,-96.21"/>
<path d="M-29,-95.59 Q-29,-97.09 -27.5,-97.59 L-7,-104.29 Q-6,-104.59 -6.5,-103.09 Q-21,-86.24 -28.4,-81.84 Q-29,-81.24 -29,-82.74Z"/>
<path d="M-4.2,-101.59 Q-20,-84.24 -27.8,-78.74"/>
<path d="M-29,-78.14 Q-29,-79.64 -27.5,-80.14 L-7,-86.84 Q-6,-87.14 -6.5,-85.64 Q-21,-67.45 -28.4,-63.05 Q-29,-62.45 -29,-63.95Z"/>
<path d="M-4.2,-84.14 Q-20,-65.45 -27.8,-59.95"/>
<path d="M-29,-59.35 Q-29,-60.85 -27.5,-61.35 L-7,-68.05 Q-6,-68.35 -6.5,-66.85 Q-21,-48.66 -28.4,-44.26 Q-29,-43.66 -29,-45.16Z"/>
<path d="M-4.2,-65.35 Q-20,-46.66 -27.8,-41.16"/>
<path d="M-29,-40.56 Q-29,-42.06 -27.5,-42.56 L-7,-49.26 Q-6,-49.56 -6.5,-48.06 Q-21,-28.85 -28.4,-24.45 Q-29,-23.85 -29,-25.35Z"/>
<path d="M-4.2,-46.56 Q-20,-26.85 -27.8,-21.35"/>
<path d="M-29,-20.74 Q-29,-22.24 -27.5,-22.74 L-7,-29.19 Q-6,-29.49 -6.5,-27.99 Q-21,-12.77 -28.4,-8.55 Q-29,-7.95 -29,-9.45Z"/>
<path d="M-4.2,-26.59 Q-20,-10.84 -27.8,-5.53"/>
<path d="M-29,-4.88 Q-29,-6.38 -27.5,-6.88 L-7,-12.53 Q-6,-12.83 -6.5,-11.33 Q-21,1.68 -28.4,5.38 Q-29,5.98 -29,4.48Z"/>
<path d="M-4.2,-10.25 Q-20,3.4 -27.8,8.13"/>
<path d="M-29,9.04 Q-29,7.54 -27.5,7.04 L-7,1.95 Q-6,1.65 -6.5,3.15 Q-21,14.62 -28.4,17.95 Q-29,18.55 -29,17.05Z"/>
<path d="M-4.2,4.01 Q-20,16.19 -27.8,20.51"/>
<path d="M-29,21.69 Q-29,20.19 -27.5,19.69 L-7,14.09 Q-6,13.79 -6.5,15.29 Q-21,28.04 -28.4,31.7 Q-29,32.3 -29,30.8Z"/>
<path d="M-4.2,16.35 Q-20,29.74 -27.8,34.44"/>
<path d="M-29,35.35 Q-29,33.85 -27.5,33.35 L-7,28.31 Q-6,28.01 -6.5,29.51 Q-21,40.87 -28.4,44.16 Q-29,44.76 -29,43.26Z"/>
<path d="M-4.2,30.35 Q-20,42.43 -27.8,46.71"/>
<path d="M-29,47.93 Q-29,46.43 -27.5,45.93 L-7,40.19 Q-6,39.89 -6.5,41.39 Q-21,54.49 -28.4,58.25 Q-29,58.85 -29,57.35Z"/>
<path d="M-4.2,42.51 Q-20,56.23 -27.8,61.03"/>
<path d="M-29,62.05 Q-29,60.55 -27.5,60.05 L-7,53.37 Q-6,53.07 -6.5,54.57 Q-21,69.99 -28.4,74.37 Q-29,74.97 -29,73.47Z"/>
<path d="M-4.2,56.06 Q-20,71.98 -27.8,77.47"/>
<path d="M-29,78 Q-29,76.5 -27.5,76 L-7,69.98 Q-6,69.68 -6.5,71.18 Q-21,84.97 -28.4,88.92 Q-29,89.52 -29,88.02Z"/>
<path d="M-4.2,72.4 Q-20,86.79 -27.8,91.79"/>
<path d="M-29,92.62 Q-29,91.12 -27.5,90.62 L-7,84.59 Q-6,84.29 -6.5,85.79 Q-21,99.83 -28.4,103.78 Q-29,104.38 -29,102.88Z"/>
<path d="M-4.2,87.02 Q-20,101.65 -27.8,106.65"/>
<path d="M-29,107.48 Q-29,105.98 -27.5,105.48 L-7,99.45 Q-6,99.15 -6.5,100.65 Q-21,115.17 -28.4,119.12 Q-29,119.72 -29,118.22Z"/>
<path d="M-4.2,101.88 Q-20,116.99 -27.8,122"/>
<path d="M-29,122.66 Q-29,121.16 -27.5,120.66 L-7,115.2 Q-6,114.9 -6.5,116.4 Q-21,129.41 -28.4,132.99 Q-29,133.59 -29,132.09Z"/>
<path d="M-4.2,117.4 Q-20,131.08 -27.8,135.67"/>
<path d="M-29,135.86 Q-29,134.36 -27.5,133.86 L-7,130.64 Q-6,130.34 -6.5,131.84 Q-21,138.96 -28.4,141.04 Q-29,141.64 -29,140.14Z"/>
<path d="M-4.2,131.95 Q-20,140.04 -27.8,142.98"/>
<path d="M-29,144.57 Q-29,143.07 -27.5,142.57 L-7,140.01 Q-6,139.71 -6.5,141.21 Q-21,146.66 -28.4,148.3 Q-29,148.9 -29,147.4Z"/>
<path d="M-4.2,141.05 Q-20,147.56 -27.8,150.03"/>
<path d="M-29,151.88 Q-29,150.38 -27.5,149.88 L-7,147.78 Q-6,147.48 -6.5,148.98 Q-21,153.25 -28.4,154.58 Q-29,155.18 -29,153.68Z"/>
<path d="M-4.2,148.64 Q-20,154.02 -27.8,156.15"/>
<path d="M-3.6,-162 Q-5.2,0 -3.6,162"/>
</g><path d="M1.5,-162 Q-0.5,0 1.5,162"/></g>
<path d="M-46,-159.5 L-45.5,-159.59 L-45,-159.68 L-44.5,-159.78 L-44,-159.87 L-43.5,-159.95 L-43,-160.04 L-42.5,-160.13 L-42,-160.22 L-41.5,-160.3 L-41,-160.38 L-40.5,-160.47 L-40,-160.55 L-39.5,-160.63 L-39,-160.71 L-38.5,-160.79 L-38,-160.87 L-37.5,-160.94 L-37,-161.02 L-36.5,-161.09 L-36,-161.17 L-35.5,-161.24 L-35,-161.31 L-34.5,-161.38 L-34,-161.45 L-33.5,-161.52 L-33,-161.59 L-32.5,-161.65 L-32,-161.72 L-31.5,-161.78 L-31,-161.85 L-30.5,-161.91 L-30,-161.61 L-29.5,-160.76 L-29,-159.91 L-28.5,-159.06 L-28,-158.21 L-27.5,-159.17 L-27,-160.14 L-26.5,-161.1 L-26,-162.06 L-25.5,-162.48 L-25,-162.53 L-24.5,-162.58 L-24,-162.63 L-23.5,-162.68 L-23,-162.72 L-22.5,-162.77 L-22,-162.82 L-21.5,-162.86 L-21,-162.9 L-20.5,-162.95 L-20,-162.99 L-19.5,-163.03 L-19,-163.07 L-18.5,-163.1 L-18,-163.14 L-17.5,-163.18 L-17,-163.21 L-16.5,-163.25 L-16,-163.28 L-15.5,-163.31 L-15,-163.34 L-14.5,-163.37 L-14,-163.4 L-13.5,-163.43 L-13,-163.46 L-12.5,-163.48 L-12,-163.51 L-11.5,-163.53 L-11,-163.55 L-10.5,-163.08 L-10,-162.6 L-9.5,-162.12 L-9,-161.64 L-8.5,-161.75 L-8,-162.27 L-7.5,-162.79 L-7,-163.3 L-6.5,-163.71 L-6,-163.73 L-5.5,-163.74 L-5,-163.75 L-4.5,-163.73 L-4,-163.7 L-3.5,-163.68 L-3,-163.65 L-2.5,-163.62 L-2,-163.59 L-1.5,-163.57 L-1,-163.54 L-0.5,-163.5 L0,-163.47 L0.5,-163.44 L1,-163.4 L1.5,-163.37 L2,-163.33 L2.5,-163.29 L3,-163.26 L3.5,-163.22 L4,-163.18 L4.5,-163.13 L5,-163.09 L5.5,-163.05 L6,-163 L6.5,-162.96 L7,-162.91 L7.5,-162.86 L8,-162.82 L8.5,-162.77 L9,-162.72 L9.5,-162.66 L10,-162.61 L10.5,-162.56 L11,-162.5 L11.5,-162.45 L12,-162.39 L12.5,-162.33 L13,-162.27 L13.5,-162.21 L14,-162.15 L14.5,-162.09 L15,-162.03 L15.5,-161.96 L16,-161.9 L16.5,-161.83 L17,-161.77 L17.5,-161.7 L18,-161.63 L18.5,-161.56 L19,-161.49 L19.5,-161.42 L20,-161.34 L20.5,-161.27 L21,-161.2 L21.5,-161.12 L22,-161.04 L22.5,-160.96 L23,-160.88 L23.5,-160.8 L24,-160.72 L24.5,-160.64 L25,-160.56 L25.5,-160.29 L26,-159.3 L26.5,-158.3 L27,-157.31 L27.5,-156.31 L28,-156.77 L28.5,-157.58 L29,-158.4 L29.5,-159.22 L30,-159.67 L30.5,-159.61 L31,-159.55 L31.5,-159.48 L32,-159.42 L32.5,-159.35 L33,-159.29 L33.5,-159.22 L34,-159.15 L34.5,-159.08 L35,-159.01 L35.5,-158.94 L36,-158.87 L36.5,-158.79 L37,-158.72 L37.5,-158.64 L38,-158.57 L38.5,-158.49 L39,-158.41 L39.5,-158.33 L40,-158.25 L40.5,-158.17 L41,-158.08 L41.5,-158 L42,-157.92 L42.5,-157.83 L43,-157.74 L43.5,-157.65 L44,-157.57 L44.5,-157.48 L45,-157.38 L45.5,-157.29 L46,-157.2 L47.97,-156.8 L49.85,-156.17 L51.64,-155.29 L53.31,-154.13 L54.86,-152.68 L56.25,-150.9 L57.48,-148.77 L58.52,-146.27 L59.36,-143.36 L59.98,-140.03 L60.37,-136.25 L60.5,-132 L60.68,-127.2 L60.85,-122.4 L61.02,-117.6 L61.17,-112.8 L61.33,-108 L61.47,-103.2 L61.61,-98.4 L61.74,-93.6 L61.87,-88.8 L61.99,-84 L62.1,-79.2 L62.21,-74.4 L62.3,-69.6 L62.4,-64.8 L62.48,-60 L62.56,-55.2 L62.64,-50.4 L62.7,-45.6 L62.76,-40.8 L62.81,-36 L62.86,-31.2 L62.9,-26.4 L62.93,-21.6 L62.96,-16.8 L62.98,-12 L62.99,-7.2 L63,-2.4 L63,2.4 L62.99,7.2 L62.98,12 L62.96,16.8 L62.93,21.6 L62.9,26.4 L62.86,31.2 L62.81,36 L62.76,40.8 L62.7,45.6 L62.64,50.4 L62.56,55.2 L62.48,60 L62.4,64.8 L62.3,69.6 L62.21,74.4 L62.1,79.2 L61.99,84 L61.87,88.8 L61.74,93.6 L61.61,98.4 L61.47,103.2 L61.33,108 L61.17,112.8 L61.02,117.6 L60.85,122.4 L60.68,127.2 L60.5,132 L60.37,136.4 L59.98,140.36 L59.36,143.89 L58.52,147.02 L57.48,149.76 L56.25,152.12 L54.86,154.14 L53.31,155.81 L51.64,157.17 L49.85,158.23 L47.97,159 L46,159.5 L45.5,159.59 L45,159.68 L44.5,159.78 L44,159.87 L43.5,159.95 L43,160.04 L42.5,160.13 L42,160.22 L41.5,160.3 L41,160.38 L40.5,160.47 L40,160.55 L39.5,160.63 L39,160.71 L38.5,160.79 L38,160.87 L37.5,160.94 L37,161.02 L36.5,161.09 L36,161.17 L35.5,161.24 L35,161.31 L34.5,161.38 L34,161.45 L33.5,161.52 L33,161.59 L32.5,161.65 L32,161.72 L31.5,161.78 L31,161.85 L30.5,161.91 L30,161.97 L29.5,161.55 L29,160.82 L28.5,160.08 L28,159.34 L27.5,158.92 L27,159.77 L26.5,160.62 L26,161.47 L25.5,162.32 L25,162.53 L24.5,162.58 L24,162.63 L23.5,162.68 L23,162.72 L22.5,162.77 L22,162.82 L21.5,162.86 L21,162.9 L20.5,162.95 L20,162.99 L19.5,163.03 L19,163.07 L18.5,163.1 L18,163.14 L17.5,163.18 L17,163.21 L16.5,163.25 L16,163.28 L15.5,163.31 L15,163.34 L14.5,163.37 L14,163.4 L13.5,163.43 L13,163.46 L12.5,163.48 L12,163.51 L11.5,163.53 L11,163.55 L10.5,163.58 L10,163.6 L9.5,163.62 L9,163.64 L8.5,163.65 L8,163.67 L7.5,163.69 L7,163.7 L6.5,163.71 L6,163.73 L5.5,163.74 L5,163.75 L4.5,163.76 L4,163.77 L3.5,163.78 L3,163.78 L2.5,163.79 L2,163.79 L1.5,163.8 L1,163.8 L0.5,163.8 L0,163.62 L-0.5,163.16 L-1,162.71 L-1.5,162.25 L-2,161.79 L-2.5,162.24 L-3,162.69 L-3.5,163.14 L-4,163.59 L-4.5,163.76 L-5,163.75 L-5.5,163.74 L-6,163.73 L-6.5,163.71 L-7,163.7 L-7.5,163.69 L-8,163.67 L-8.5,163.65 L-9,163.64 L-9.5,163.62 L-10,163.6 L-10.5,163.58 L-11,163.55 L-11.5,163.53 L-12,163.51 L-12.5,163.48 L-13,163.46 L-13.5,163.43 L-14,163.4 L-14.5,163.37 L-15,163.16 L-15.5,162.68 L-16,162.19 L-16.5,161.7 L-17,161.21 L-17.5,161.63 L-18,162.05 L-18.5,162.47 L-19,162.88 L-19.5,163.03 L-20,162.99 L-20.5,162.95 L-21,162.9 L-21.5,162.86 L-22,162.82 L-22.5,162.77 L-23,162.72 L-23.5,162.68 L-24,162.63 L-24.5,162.58 L-25,162.53 L-25.5,162.48 L-26,162.43 L-26.5,162.37 L-27,162.32 L-27.5,161.9 L-28,160.93 L-28.5,159.97 L-29,159 L-29.5,158.03 L-30,158.88 L-30.5,159.73 L-31,160.57 L-31.5,161.42 L-32,161.72 L-32.5,161.65 L-33,161.59 L-33.5,161.52 L-34,161.45 L-34.5,161.38 L-35,161.31 L-35.5,161.24 L-36,161.17 L-36.5,161.09 L-37,161.02 L-37.5,160.94 L-38,160.87 L-38.5,160.79 L-39,160.71 L-39.5,160.63 L-40,160.55 L-40.5,160.47 L-41,160.38 L-41.5,160.3 L-42,160.22 L-42.5,160.13 L-43,160.04 L-43.5,159.95 L-44,159.87 L-44.5,159.78 L-45,159.68 L-45.5,159.59 L-46,159.5 L-47.97,159 L-49.85,158.23 L-51.64,157.17 L-53.31,155.81 L-54.86,154.14 L-56.25,152.12 L-57.48,149.76 L-58.52,147.02 L-59.36,143.89 L-59.98,140.36 L-60.37,136.4 L-60.5,132 L-60.68,127.2 L-60.85,122.4 L-61.02,117.6 L-61.17,112.8 L-61.33,108 L-61.47,103.2 L-61.61,98.4 L-61.74,93.6 L-61.87,88.8 L-61.99,84 L-62.1,79.2 L-62.21,74.4 L-62.3,69.6 L-62.4,64.8 L-62.48,60 L-62.56,55.2 L-62.64,50.4 L-62.7,45.6 L-62.76,40.8 L-62.81,36 L-62.86,31.2 L-62.9,26.4 L-62.93,21.6 L-62.96,16.8 L-62.98,12 L-62.99,7.2 L-63,2.4 L-63,-2.4 L-62.99,-7.2 L-62.98,-12 L-62.96,-16.8 L-62.93,-21.6 L-62.9,-26.4 L-62.86,-31.2 L-62.81,-36 L-62.76,-40.8 L-62.7,-45.6 L-62.64,-50.4 L-62.56,-55.2 L-62.48,-60 L-62.4,-64.8 L-62.3,-69.6 L-62.21,-74.4 L-62.1,-79.2 L-61.99,-84 L-61.87,-88.8 L-61.74,-93.6 L-61.61,-98.4 L-61.47,-103.2 L-61.33,-108 L-61.17,-112.8 L-61.02,-117.6 L-60.85,-122.4 L-60.68,-127.2 L-60.37,-136.4 L-59.98,-140.36 L-59.36,-143.89 L-58.52,-147.02 L-57.48,-149.76 L-56.25,-152.12 L-54.86,-154.14 L-53.31,-155.81 L-51.64,-157.17 L-49.85,-158.23 L-47.97,-159Z" fill="none" stroke="#a5d934" stroke-width="2.4" stroke-linejoin="round"/>
</g>
<rect x="200" y="270" width="5" height="389" fill="#fff"/>
<rect x="509" y="270" width="5" height="389" fill="#fff"/>
<g transform="translate(201,461) rotate(4.6)" fill="none" stroke="#fff" stroke-width="4.3" stroke-linejoin="miter">
<path d="M6.0,-186.9 L1.4,-186.9 L1.4,-183.3"/>
<path d="M12.4,-186.9 L20.0,-186.9"/>
<path d="M1.5,-175 L-1.2,182" stroke-dasharray="8 7.85"/>
<path d="M-1.03,189.4 L-1.03,193 L-5.7,193"/>
<path d="M-12.6,192.8 L-21,192.8"/>
<path d="M29,-193 L39.5,-186.9 L29,-180.8 L29,-184.6 L26.5,-184.6 L26.5,-189.2 L29,-189.2Z" fill="#fff" stroke="none"/>
<path d="M-30.6,186.7 L-40.9,192.8 L-30.6,198.9 L-30.6,195.1 L-28.3,195.1 L-28.3,190.5 L-30.6,190.5Z" fill="#fff" stroke="none"/>
</g>
<g transform="translate(513,461) scale(-1,1) rotate(4.6)" fill="none" stroke="#fff" stroke-width="4.3" stroke-linejoin="miter">
<path d="M6.0,-186.9 L1.4,-186.9 L1.4,-183.3"/>
<path d="M12.4,-186.9 L20.0,-186.9"/>
<path d="M1.5,-175 L-1.2,182" stroke-dasharray="8 7.85"/>
<path d="M-1.03,189.4 L-1.03,193 L-5.7,193"/>
<path d="M-12.6,192.8 L-21,192.8"/>
<path d="M29,-193 L39.5,-186.9 L29,-180.8 L29,-184.6 L26.5,-184.6 L26.5,-189.2 L29,-189.2Z" fill="#fff" stroke="none"/>
<path d="M-30.6,186.7 L-40.9,192.8 L-30.6,198.9 L-30.6,195.1 L-28.3,195.1 L-28.3,190.5 L-30.6,190.5Z" fill="#fff" stroke="none"/>
</g>
</svg>
<div class="t lab" style="left:165px;top:244.5px;">Centerline</div>
<div class="t lab" style="left:475px;top:245.5px;">Centerline</div>
<div class="t lab" style="left:288px;top:318px;">Negative<br>Camber</div>
<div class="t lab" style="left:579px;top:318px;">Positive<br>Camber</div>
<div class="t" id="wm">Drive Safe and Fast</div>
</body></html>
